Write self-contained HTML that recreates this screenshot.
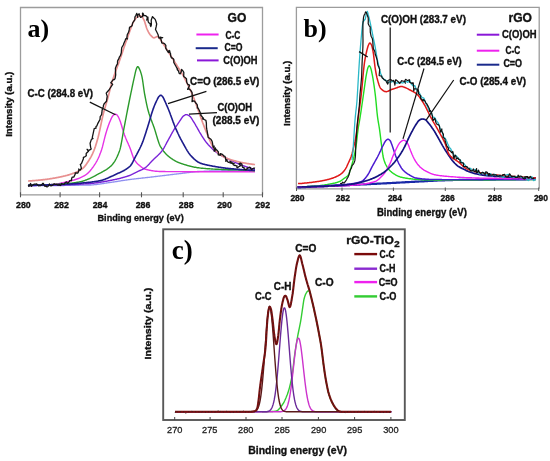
<!DOCTYPE html>
<html><head><meta charset="utf-8"><title>XPS C1s spectra</title>
<style>
html,body{margin:0;padding:0;background:#fff;}
body{width:550px;height:461px;overflow:hidden;}
svg{display:block;}
text{font-kerning:none;}
</style></head>
<body>
<svg width="550" height="461" viewBox="0 0 550 461">
<rect width="550" height="461" fill="#fff"/>
<g id="pa">
<polyline points="20.5,194.8 20.5,7.5 262.5,7.5 262.5,194.8" fill="none" stroke="#9c9c9c" stroke-width="1.3"/>
<line x1="20.5" y1="194.8" x2="262.5" y2="194.8" stroke="#999" stroke-width="1.3"/>
<line x1="20.5" y1="192.3" x2="20.5" y2="197.3" stroke="#555" stroke-width="1.1"/>
<text x="23.4" y="207.8" font-family="'Liberation Sans', sans-serif" font-size="9.7" font-weight="bold" text-anchor="middle" fill="#111" textLength="14.7" lengthAdjust="spacingAndGlyphs" stroke="#111" stroke-width="0.35" >280</text>
<line x1="60.1" y1="192.3" x2="60.1" y2="197.3" stroke="#555" stroke-width="1.1"/>
<text x="61.5" y="207.8" font-family="'Liberation Sans', sans-serif" font-size="9.7" font-weight="bold" text-anchor="middle" fill="#111" textLength="14.7" lengthAdjust="spacingAndGlyphs" stroke="#111" stroke-width="0.35" >282</text>
<line x1="99.6" y1="192.3" x2="99.6" y2="197.3" stroke="#555" stroke-width="1.1"/>
<text x="100" y="207.8" font-family="'Liberation Sans', sans-serif" font-size="9.7" font-weight="bold" text-anchor="middle" fill="#111" textLength="14.7" lengthAdjust="spacingAndGlyphs" stroke="#111" stroke-width="0.35" >284</text>
<line x1="141.5" y1="192.3" x2="141.5" y2="197.3" stroke="#555" stroke-width="1.1"/>
<text x="143" y="207.8" font-family="'Liberation Sans', sans-serif" font-size="9.7" font-weight="bold" text-anchor="middle" fill="#111" textLength="14.7" lengthAdjust="spacingAndGlyphs" stroke="#111" stroke-width="0.35" >286</text>
<line x1="183.2" y1="192.3" x2="183.2" y2="197.3" stroke="#555" stroke-width="1.1"/>
<text x="186.2" y="207.8" font-family="'Liberation Sans', sans-serif" font-size="9.7" font-weight="bold" text-anchor="middle" fill="#111" textLength="14.7" lengthAdjust="spacingAndGlyphs" stroke="#111" stroke-width="0.35" >288</text>
<line x1="223.2" y1="192.3" x2="223.2" y2="197.3" stroke="#555" stroke-width="1.1"/>
<text x="224.5" y="207.8" font-family="'Liberation Sans', sans-serif" font-size="9.7" font-weight="bold" text-anchor="middle" fill="#111" textLength="14.7" lengthAdjust="spacingAndGlyphs" stroke="#111" stroke-width="0.35" >290</text>
<line x1="262.5" y1="192.3" x2="262.5" y2="197.3" stroke="#555" stroke-width="1.1"/>
<text x="262.7" y="207.8" font-family="'Liberation Sans', sans-serif" font-size="9.7" font-weight="bold" text-anchor="middle" fill="#111" textLength="14.7" lengthAdjust="spacingAndGlyphs" stroke="#111" stroke-width="0.35" >292</text>
<polyline points="28,185.8 28.5,185.8 29,185.8 29.5,185.8 30,185.8 30.5,185.8 31,185.8 31.5,185.8 32,185.8 32.5,185.8 33,185.8 33.5,185.8 34,185.8 34.5,185.8 35,185.8 35.5,185.7 36,185.7 36.5,185.7 37,185.7 37.5,185.7 38,185.7 38.5,185.7 39,185.7 39.5,185.7 40,185.7 40.5,185.7 41,185.7 41.5,185.7 42,185.7 42.5,185.7 43,185.7 43.5,185.7 44,185.7 44.5,185.7 45,185.7 45.5,185.7 46,185.7 46.5,185.7 47,185.6 47.5,185.6 48,185.6 48.5,185.6 49,185.6 49.5,185.6 50,185.6 50.5,185.6 51,185.6 51.5,185.6 52,185.6 52.5,185.6 53,185.6 53.5,185.6 54,185.6 54.5,185.6 55,185.6 55.5,185.6 56,185.5 56.5,185.5 57,185.5 57.5,185.5 58,185.5 58.5,185.5 59,185.5 59.5,185.5 60,185.5 60.5,185.5 61,185.5 61.5,185.5 62,185.5 62.5,185.5 63,185.5 63.5,185.5 64,185.5 64.5,185.4 65,185.4 65.5,185.4 66,185.4 66.5,185.4 67,185.4 67.5,185.4 68,185.4 68.5,185.4 69,185.4 69.5,185.4 70,185.4 70.5,185.4 71,185.4 71.5,185.4 72,185.4 72.5,185.4 73,185.3 73.5,185.3 74,185.3 74.5,185.3 75,185.3 75.5,185.3 76,185.3 76.5,185.3 77,185.3 77.5,185.3 78,185.3 78.5,185.3 79,185.3 79.5,185.2 80,185.2 80.5,185.2 81,185.2 81.5,185.2 82,185.2 82.5,185.2 83,185.2 83.5,185.2 84,185.2 84.5,185.1 85,185.1 85.5,185.1 86,185.1 86.5,185.1 87,185.1 87.5,185.1 88,185.1 88.5,185 89,185 89.5,185 90,185 90.5,185 91,185 91.5,184.9 92,184.9 92.5,184.9 93,184.8 93.5,184.8 94,184.7 94.5,184.7 95,184.7 95.5,184.6 96,184.5 96.5,184.5 97,184.4 97.5,184.4 98,184.3 98.5,184.2 99,184.2 99.5,184.1 100,184 100.5,183.9 101,183.9 101.5,183.8 102,183.7 102.5,183.6 103,183.6 103.5,183.5 104,183.4 104.5,183.3 105,183.2 105.5,183.2 106,183.1 106.5,183 107,182.9 107.5,182.9 108,182.8 108.5,182.7 109,182.6 109.5,182.6 110,182.5 110.5,182.4 111,182.4 111.5,182.3 112,182.2 112.5,182.1 113,182.1 113.5,182 114,181.9 114.5,181.8 115,181.8 115.5,181.7 116,181.6 116.5,181.5 117,181.5 117.5,181.4 118,181.3 118.5,181.2 119,181.1 119.5,181.1 120,181 120.5,180.9 121,180.8 121.5,180.7 122,180.7 122.5,180.6 123,180.5 123.5,180.4 124,180.4 124.5,180.3 125,180.2 125.5,180.1 126,180.1 126.5,180 127,179.9 127.5,179.8 128,179.8 128.5,179.7 129,179.6 129.5,179.6 130,179.5 130.5,179.4 131,179.4 131.5,179.3 132,179.2 132.5,179.2 133,179.1 133.5,179.1 134,179 134.5,178.9 135,178.9 135.5,178.8 136,178.8 136.5,178.7 137,178.7 137.5,178.6 138,178.5 138.5,178.5 139,178.4 139.5,178.4 140,178.3 140.5,178.3 141,178.2 141.5,178.2 142,178.1 142.5,178 143,178 143.5,177.9 144,177.9 144.5,177.8 145,177.8 145.5,177.7 146,177.7 146.5,177.6 147,177.5 147.5,177.5 148,177.4 148.5,177.4 149,177.3 149.5,177.3 150,177.2 150.5,177.1 151,177.1 151.5,177 152,177 152.5,176.9 153,176.8 153.5,176.8 154,176.7 154.5,176.7 155,176.6 155.5,176.5 156,176.5 156.5,176.4 157,176.4 157.5,176.3 158,176.2 158.5,176.2 159,176.1 159.5,176.1 160,176 160.5,175.9 161,175.9 161.5,175.8 162,175.8 162.5,175.7 163,175.6 163.5,175.6 164,175.5 164.5,175.5 165,175.4 165.5,175.3 166,175.3 166.5,175.2 167,175.1 167.5,175.1 168,175 168.5,175 169,174.9 169.5,174.8 170,174.8 170.5,174.7 171,174.7 171.5,174.6 172,174.5 172.5,174.5 173,174.4 173.5,174.4 174,174.3 174.5,174.2 175,174.2 175.5,174.1 176,174.1 176.5,174 177,173.9 177.5,173.9 178,173.8 178.5,173.8 179,173.7 179.5,173.7 180,173.6 180.5,173.5 181,173.5 181.5,173.4 182,173.4 182.5,173.3 183,173.2 183.5,173.2 184,173.1 184.5,173 185,173 185.5,172.9 186,172.8 186.5,172.8 187,172.7 187.5,172.6 188,172.6 188.5,172.5 189,172.5 189.5,172.4 190,172.3 190.5,172.3 191,172.2 191.5,172.1 192,172.1 192.5,172 193,172 193.5,171.9 194,171.9 194.5,171.8 195,171.8 195.5,171.7 196,171.7 196.5,171.6 197,171.6 197.5,171.5 198,171.5 198.5,171.5 199,171.5 199.5,171.4 200,171.4 200.5,171.4 201,171.4 201.5,171.3 202,171.3 202.5,171.3 203,171.3 203.5,171.3 204,171.2 204.5,171.2 205,171.2 205.5,171.2 206,171.2 206.5,171.1 207,171.1 207.5,171.1 208,171.1 208.5,171.1 209,171.1 209.5,171 210,171 210.5,171 211,171 211.5,171 212,171 212.5,171 213,170.9 213.5,170.9 214,170.9 214.5,170.9 215,170.9 215.5,170.9 216,170.9 216.5,170.9 217,170.8 217.5,170.8 218,170.8 218.5,170.8 219,170.8 219.5,170.8 220,170.8 220.5,170.8 221,170.8 221.5,170.8 222,170.7 222.5,170.7 223,170.7 223.5,170.7 224,170.7 224.5,170.7 225,170.7 225.5,170.7 226,170.7 226.5,170.7 227,170.7 227.5,170.6 228,170.6 228.5,170.6 229,170.6 229.5,170.6 230,170.6 230.5,170.6 231,170.6 231.5,170.6 232,170.6 232.5,170.6 233,170.6 233.5,170.5 234,170.5 234.5,170.5 235,170.5 235.5,170.5 236,170.5 236.5,170.5 237,170.5 237.5,170.5 238,170.5 238.5,170.5 239,170.5 239.5,170.5 240,170.4 240.5,170.4 241,170.4 241.5,170.4 242,170.4 242.5,170.4 243,170.4 243.5,170.4 244,170.4 244.5,170.4 245,170.4 245.5,170.4 246,170.4 246.5,170.4 247,170.4 247.5,170.4 248,170.4 248.5,170.3 249,170.3 249.5,170.3 250,170.3 250.5,170.3 251,170.3 251.5,170.3 252,170.3 252.5,170.3 253,170.3 253.5,170.3 254,170.3 254.5,170.3 255,170.3" fill="none" stroke="#8f8ff0" stroke-width="1.3" stroke-linejoin="round" />
<polyline points="28,185 28.5,185 29,185 29.5,185 30,185 30.5,185 31,185 31.5,185 32,185 32.5,185 33,185 33.5,185 34,185 34.5,185 35,185 35.5,184.9 36,184.9 36.5,184.9 37,184.9 37.5,184.9 38,184.9 38.5,184.9 39,184.9 39.5,184.9 40,184.9 40.5,184.9 41,184.8 41.5,184.8 42,184.8 42.5,184.8 43,184.8 43.5,184.8 44,184.8 44.5,184.8 45,184.8 45.5,184.7 46,184.7 46.5,184.7 47,184.7 47.5,184.7 48,184.7 48.5,184.6 49,184.6 49.5,184.6 50,184.6 50.5,184.6 51,184.6 51.5,184.5 52,184.5 52.5,184.5 53,184.4 53.5,184.4 54,184.3 54.5,184.3 55,184.2 55.5,184.1 56,184.1 56.5,184 57,183.9 57.5,183.8 58,183.8 58.5,183.7 59,183.6 59.5,183.5 60,183.4 60.5,183.3 61,183.2 61.5,183.1 62,183 62.5,182.9 63,182.8 63.5,182.7 64,182.5 64.5,182.4 65,182.3 65.5,182.2 66,182.1 66.5,181.9 67,181.8 67.5,181.7 68,181.6 68.5,181.4 69,181.3 69.5,181.2 70,181 70.5,180.9 71,180.8 71.5,180.6 72,180.5 72.5,180.4 73,180.2 73.5,180.1 74,180 74.5,179.8 75,179.7 75.5,179.5 76,179.3 76.5,179.2 77,179 77.5,178.8 78,178.7 78.5,178.5 79,178.3 79.5,178.1 80,177.9 80.5,177.6 81,177.4 81.5,177.2 82,176.9 82.5,176.7 83,176.4 83.5,176.2 84,175.9 84.5,175.6 85,175.3 85.5,175 86,174.7 86.5,174.3 87,173.9 87.5,173.5 88,173 88.5,172.6 89,172 89.5,171.5 90,170.9 90.5,170.4 91,169.7 91.5,169.1 92,168.4 92.5,167.8 93,167.1 93.5,166.3 94,165.6 94.5,164.8 95,164.1 95.5,163.3 96,162.5 96.5,161.6 97,160.8 97.5,159.8 98,158.8 98.5,157.7 99,156.6 99.5,155.4 100,154.1 100.5,152.8 101,151.4 101.5,150 102,148.4 102.5,146.7 103,144.7 103.5,142.7 104,140.7 104.5,138.6 105,136.6 105.5,134.7 106,133 106.5,131.4 107,129.8 107.5,128.3 108,126.8 108.5,125.3 109,123.9 109.5,122.6 110,121.4 110.5,120.2 111,119.1 111.5,118 112,117.1 112.5,116.2 113,115.6 113.5,115.1 114,114.7 114.5,114.3 115,114.1 115.5,114.1 116,114.3 116.5,114.6 117,115.1 117.5,115.6 118,116.3 118.5,117.2 119,118.3 119.5,119.5 120,120.7 120.5,122.1 121,123.7 121.5,125.3 122,127 122.5,128.7 123,130.4 123.5,132 124,133.6 124.5,135 125,136.3 125.5,137.6 126,138.8 126.5,139.9 127,141.1 127.5,142.2 128,143.3 128.5,144.5 129,145.6 129.5,146.8 130,148 130.5,149.3 131,150.7 131.5,152.2 132,153.7 132.5,155.2 133,156.6 133.5,157.9 134,159 134.5,159.9 135,160.7 135.5,161.4 136,162 136.5,162.6 137,163.2 137.5,163.7 138,164.2 138.5,164.6 139,165.1 139.5,165.5 140,165.9 140.5,166.3 141,166.7 141.5,167.1 142,167.5 142.5,167.8 143,168.2 143.5,168.5 144,168.7 144.5,169 145,169.1 145.5,169.3 146,169.4 146.5,169.5 147,169.7 147.5,169.8 148,169.9 148.5,170 149,170.1 149.5,170.2 150,170.3 150.5,170.4 151,170.5 151.5,170.6 152,170.7 152.5,170.8 153,170.9 153.5,170.9 154,171 154.5,171.1 155,171.1 155.5,171.2 156,171.3 156.5,171.3 157,171.3 157.5,171.4 158,171.4 158.5,171.4 159,171.5 159.5,171.5 160,171.5 160.5,171.5 161,171.5 161.5,171.5 162,171.5 162.5,171.5 163,171.5 163.5,171.5 164,171.5 164.5,171.5 165,171.5 165.5,171.6 166,171.6 166.5,171.6 167,171.6 167.5,171.6 168,171.6 168.5,171.6 169,171.6 169.5,171.6 170,171.6 170.5,171.6 171,171.6 171.5,171.6 172,171.6 172.5,171.6 173,171.6 173.5,171.6 174,171.6 174.5,171.6 175,171.6 175.5,171.6 176,171.6 176.5,171.6 177,171.6 177.5,171.6 178,171.6 178.5,171.6 179,171.6 179.5,171.6 180,171.6 180.5,171.6 181,171.6 181.5,171.6 182,171.6 182.5,171.7 183,171.7 183.5,171.7 184,171.7 184.5,171.7 185,171.7 185.5,171.7 186,171.7 186.5,171.7 187,171.7 187.5,171.7 188,171.7 188.5,171.7 189,171.7 189.5,171.7 190,171.7 190.5,171.7 191,171.7 191.5,171.7 192,171.7 192.5,171.7 193,171.7 193.5,171.7 194,171.7 194.5,171.7 195,171.7 195.5,171.7 196,171.7 196.5,171.7 197,171.7 197.5,171.7 198,171.7 198.5,171.7 199,171.7 199.5,171.7 200,171.7 200.5,171.7 201,171.7 201.5,171.7 202,171.7 202.5,171.7 203,171.7 203.5,171.7 204,171.7 204.5,171.7 205,171.7 205.5,171.7 206,171.7 206.5,171.7 207,171.7 207.5,171.7 208,171.7 208.5,171.7 209,171.7 209.5,171.7 210,171.7 210.5,171.7 211,171.7 211.5,171.7 212,171.7 212.5,171.7 213,171.7 213.5,171.7 214,171.7 214.5,171.7 215,171.7 215.5,171.7 216,171.7 216.5,171.7 217,171.7 217.5,171.7 218,171.7 218.5,171.7 219,171.7 219.5,171.8 220,171.8 220.5,171.8 221,171.8 221.5,171.8 222,171.8 222.5,171.8 223,171.8 223.5,171.8 224,171.8 224.5,171.8 225,171.8 225.5,171.8 226,171.8 226.5,171.8 227,171.8 227.5,171.8 228,171.8 228.5,171.8 229,171.8 229.5,171.8 230,171.8 230.5,171.8 231,171.8 231.5,171.8 232,171.8 232.5,171.8 233,171.8 233.5,171.8 234,171.8 234.5,171.8 235,171.8 235.5,171.8 236,171.8 236.5,171.8 237,171.8 237.5,171.8 238,171.8 238.5,171.8 239,171.8 239.5,171.8 240,171.8 240.5,171.8 241,171.8 241.5,171.8 242,171.8 242.5,171.8 243,171.8 243.5,171.8 244,171.8 244.5,171.8 245,171.8 245.5,171.8 246,171.8 246.5,171.8 247,171.8 247.5,171.8 248,171.8 248.5,171.8 249,171.8 249.5,171.8 250,171.8 250.5,171.8 251,171.8 251.5,171.8 252,171.8 252.5,171.8 253,171.8 253.5,171.8 254,171.8 254.5,171.8 255,171.8" fill="none" stroke="#e632e6" stroke-width="1.4" stroke-linejoin="round" />
<polyline points="28,185 28.5,185 29,185 29.5,185 30,185 30.5,185 31,185 31.5,185 32,185 32.5,185 33,185 33.5,185 34,185 34.5,185 35,185 35.5,184.9 36,184.9 36.5,184.9 37,184.9 37.5,184.9 38,184.9 38.5,184.9 39,184.9 39.5,184.9 40,184.9 40.5,184.9 41,184.8 41.5,184.8 42,184.8 42.5,184.8 43,184.8 43.5,184.8 44,184.8 44.5,184.8 45,184.7 45.5,184.7 46,184.7 46.5,184.7 47,184.7 47.5,184.7 48,184.7 48.5,184.6 49,184.6 49.5,184.6 50,184.6 50.5,184.6 51,184.6 51.5,184.5 52,184.5 52.5,184.5 53,184.5 53.5,184.5 54,184.4 54.5,184.4 55,184.4 55.5,184.4 56,184.4 56.5,184.3 57,184.3 57.5,184.3 58,184.3 58.5,184.3 59,184.2 59.5,184.2 60,184.2 60.5,184.2 61,184.2 61.5,184.1 62,184.1 62.5,184.1 63,184 63.5,184 64,184 64.5,183.9 65,183.9 65.5,183.8 66,183.8 66.5,183.7 67,183.7 67.5,183.6 68,183.6 68.5,183.5 69,183.5 69.5,183.4 70,183.4 70.5,183.3 71,183.2 71.5,183.2 72,183.1 72.5,183 73,183 73.5,182.9 74,182.8 74.5,182.7 75,182.7 75.5,182.6 76,182.5 76.5,182.4 77,182.3 77.5,182.3 78,182.2 78.5,182.1 79,182 79.5,181.9 80,181.8 80.5,181.7 81,181.6 81.5,181.5 82,181.3 82.5,181.2 83,181.1 83.5,180.9 84,180.8 84.5,180.6 85,180.4 85.5,180.2 86,180 86.5,179.8 87,179.6 87.5,179.4 88,179.2 88.5,179 89,178.8 89.5,178.6 90,178.3 90.5,178.1 91,177.8 91.5,177.6 92,177.3 92.5,177.1 93,176.8 93.5,176.6 94,176.3 94.5,176.1 95,175.8 95.5,175.5 96,175.3 96.5,175 97,174.7 97.5,174.4 98,174.2 98.5,173.9 99,173.6 99.5,173.4 100,173.1 100.5,172.8 101,172.6 101.5,172.3 102,172 102.5,171.8 103,171.5 103.5,171.2 104,171 104.5,170.7 105,170.4 105.5,170.1 106,169.8 106.5,169.5 107,169.1 107.5,168.8 108,168.4 108.5,168 109,167.7 109.5,167.2 110,166.8 110.5,166.4 111,165.9 111.5,165.4 112,164.9 112.5,164.3 113,163.7 113.5,163 114,162.3 114.5,161.6 115,160.8 115.5,159.9 116,159 116.5,158 117,157 117.5,155.9 118,154.7 118.5,153.5 119,152.2 119.5,150.9 120,149.4 120.5,147.4 121,145 121.5,142.4 122,139.6 122.5,136.6 123,133.7 123.5,130.8 124,128.2 124.5,125.6 125,123 125.5,120.4 126,117.8 126.5,115.2 127,112.6 127.5,110 128,107.5 128.5,105 129,102.5 129.5,100 130,97.5 130.5,95.1 131,92.7 131.5,90.3 132,87.9 132.5,85.5 133,83.1 133.5,80.8 134,78.6 134.5,76.4 135,74.2 135.5,71.9 136,69.9 136.5,68.5 137,67.4 137.5,66.7 138,66.6 138.5,67.2 139,68.1 139.5,69.1 140,70.2 140.5,71.6 141,73.1 141.5,74.8 142,76.8 142.5,79.6 143,83 143.5,86.7 144,90.2 144.5,93.3 145,96 145.5,98.7 146,101.2 146.5,103.6 147,105.9 147.5,108.1 148,110 148.5,111.8 149,113.5 149.5,115 150,116.5 150.5,117.9 151,119.3 151.5,120.6 152,121.9 152.5,123.3 153,124.6 153.5,125.9 154,127.3 154.5,128.8 155,130.4 155.5,132 156,133.7 156.5,135.4 157,137 157.5,138.7 158,140.3 158.5,141.8 159,143.2 159.5,144.5 160,145.6 160.5,146.6 161,147.4 161.5,148.2 162,149 162.5,149.7 163,150.4 163.5,151.1 164,151.7 164.5,152.3 165,152.9 165.5,153.5 166,154 166.5,154.5 167,155 167.5,155.4 168,155.9 168.5,156.3 169,156.7 169.5,157.1 170,157.5 170.5,157.9 171,158.2 171.5,158.6 172,158.9 172.5,159.2 173,159.6 173.5,159.9 174,160.2 174.5,160.5 175,160.8 175.5,161 176,161.3 176.5,161.6 177,161.8 177.5,162 178,162.3 178.5,162.5 179,162.7 179.5,162.9 180,163.1 180.5,163.2 181,163.4 181.5,163.6 182,163.8 182.5,163.9 183,164.1 183.5,164.3 184,164.4 184.5,164.6 185,164.7 185.5,164.9 186,165 186.5,165.2 187,165.3 187.5,165.5 188,165.6 188.5,165.8 189,165.9 189.5,166 190,166.2 190.5,166.3 191,166.4 191.5,166.5 192,166.6 192.5,166.7 193,166.9 193.5,167 194,167.1 194.5,167.2 195,167.3 195.5,167.3 196,167.4 196.5,167.5 197,167.6 197.5,167.7 198,167.7 198.5,167.8 199,167.9 199.5,167.9 200,168 200.5,168.1 201,168.1 201.5,168.2 202,168.2 202.5,168.3 203,168.3 203.5,168.4 204,168.4 204.5,168.4 205,168.5 205.5,168.5 206,168.6 206.5,168.6 207,168.7 207.5,168.7 208,168.7 208.5,168.8 209,168.8 209.5,168.8 210,168.9 210.5,168.9 211,168.9 211.5,169 212,169 212.5,169 213,169.1 213.5,169.1 214,169.1 214.5,169.1 215,169.2 215.5,169.2 216,169.2 216.5,169.2 217,169.3 217.5,169.3 218,169.3 218.5,169.3 219,169.4 219.5,169.4 220,169.4 220.5,169.4 221,169.4 221.5,169.5 222,169.5 222.5,169.5 223,169.5 223.5,169.5 224,169.5 224.5,169.6 225,169.6 225.5,169.6 226,169.6 226.5,169.6 227,169.6 227.5,169.6 228,169.7 228.5,169.7 229,169.7 229.5,169.7 230,169.7 230.5,169.7 231,169.7 231.5,169.7 232,169.8 232.5,169.8 233,169.8 233.5,169.8 234,169.8 234.5,169.8 235,169.8 235.5,169.9 236,169.9 236.5,169.9 237,169.9 237.5,169.9 238,169.9 238.5,169.9 239,170 239.5,170 240,170 240.5,170 241,170 241.5,170.1 242,170.1 242.5,170.1 243,170.1 243.5,170.2 244,170.2 244.5,170.2 245,170.2 245.5,170.2 246,170.3 246.5,170.3 247,170.3 247.5,170.4 248,170.4 248.5,170.4 249,170.4 249.5,170.5 250,170.5 250.5,170.5 251,170.6 251.5,170.6 252,170.6 252.5,170.6 253,170.7 253.5,170.7 254,170.7 254.5,170.8 255,170.8" fill="none" stroke="#2a9a2a" stroke-width="1.4" stroke-linejoin="round" />
<polyline points="28,185.5 28.5,185.5 29,185.5 29.5,185.5 30,185.5 30.5,185.5 31,185.5 31.5,185.5 32,185.5 32.5,185.5 33,185.5 33.5,185.5 34,185.5 34.5,185.5 35,185.5 35.5,185.5 36,185.5 36.5,185.5 37,185.4 37.5,185.4 38,185.4 38.5,185.4 39,185.4 39.5,185.4 40,185.4 40.5,185.4 41,185.4 41.5,185.4 42,185.4 42.5,185.4 43,185.4 43.5,185.4 44,185.3 44.5,185.3 45,185.3 45.5,185.3 46,185.3 46.5,185.3 47,185.3 47.5,185.3 48,185.3 48.5,185.3 49,185.3 49.5,185.2 50,185.2 50.5,185.2 51,185.2 51.5,185.2 52,185.2 52.5,185.2 53,185.2 53.5,185.2 54,185.1 54.5,185.1 55,185.1 55.5,185.1 56,185.1 56.5,185.1 57,185.1 57.5,185.1 58,185 58.5,185 59,185 59.5,185 60,185 60.5,185 61,185 61.5,185 62,184.9 62.5,184.9 63,184.9 63.5,184.9 64,184.9 64.5,184.9 65,184.9 65.5,184.8 66,184.8 66.5,184.8 67,184.8 67.5,184.8 68,184.8 68.5,184.7 69,184.7 69.5,184.7 70,184.7 70.5,184.7 71,184.6 71.5,184.6 72,184.6 72.5,184.6 73,184.5 73.5,184.5 74,184.5 74.5,184.5 75,184.5 75.5,184.4 76,184.4 76.5,184.4 77,184.3 77.5,184.3 78,184.3 78.5,184.3 79,184.2 79.5,184.2 80,184.2 80.5,184.2 81,184.1 81.5,184.1 82,184.1 82.5,184 83,184 83.5,184 84,183.9 84.5,183.9 85,183.9 85.5,183.8 86,183.8 86.5,183.8 87,183.7 87.5,183.7 88,183.7 88.5,183.6 89,183.6 89.5,183.5 90,183.5 90.5,183.5 91,183.4 91.5,183.4 92,183.3 92.5,183.3 93,183.2 93.5,183.2 94,183.1 94.5,183.1 95,183 95.5,182.9 96,182.9 96.5,182.8 97,182.7 97.5,182.7 98,182.6 98.5,182.5 99,182.4 99.5,182.4 100,182.3 100.5,182.2 101,182.1 101.5,182 102,182 102.5,181.9 103,181.8 103.5,181.7 104,181.6 104.5,181.5 105,181.4 105.5,181.3 106,181.3 106.5,181.2 107,181.1 107.5,181 108,180.9 108.5,180.8 109,180.7 109.5,180.6 110,180.5 110.5,180.4 111,180.3 111.5,180.2 112,180.1 112.5,180 113,179.9 113.5,179.8 114,179.7 114.5,179.6 115,179.5 115.5,179.4 116,179.3 116.5,179.2 117,179.1 117.5,178.9 118,178.8 118.5,178.7 119,178.6 119.5,178.5 120,178.3 120.5,178.2 121,178.1 121.5,177.9 122,177.8 122.5,177.7 123,177.5 123.5,177.4 124,177.2 124.5,177.1 125,176.9 125.5,176.8 126,176.6 126.5,176.5 127,176.3 127.5,176.2 128,176 128.5,175.8 129,175.7 129.5,175.5 130,175.3 130.5,175.1 131,174.9 131.5,174.7 132,174.4 132.5,174.2 133,173.9 133.5,173.7 134,173.4 134.5,173.1 135,172.9 135.5,172.6 136,172.4 136.5,172.1 137,171.9 137.5,171.6 138,171.4 138.5,171.2 139,171 139.5,170.7 140,170.5 140.5,170.3 141,170 141.5,169.8 142,169.6 142.5,169.3 143,169 143.5,168.8 144,168.5 144.5,168.2 145,167.8 145.5,167.5 146,167.1 146.5,166.7 147,166.2 147.5,165.8 148,165.3 148.5,164.7 149,164.2 149.5,163.7 150,163.1 150.5,162.6 151,162 151.5,161.5 152,160.9 152.5,160.4 153,159.9 153.5,159.4 154,158.9 154.5,158.5 155,158 155.5,157.6 156,157.1 156.5,156.7 157,156.2 157.5,155.7 158,155.3 158.5,154.8 159,154.3 159.5,153.8 160,153.2 160.5,152.7 161,152.1 161.5,151.5 162,150.9 162.5,150.2 163,149.4 163.5,148.6 164,147.8 164.5,146.9 165,146 165.5,145 166,144.1 166.5,143.1 167,142.2 167.5,141.3 168,140.4 168.5,139.5 169,138.6 169.5,137.7 170,136.8 170.5,135.9 171,134.9 171.5,134 172,133.1 172.5,132.2 173,131.4 173.5,130.5 174,129.7 174.5,128.9 175,128.1 175.5,127.3 176,126.6 176.5,125.8 177,125.1 177.5,124.3 178,123.6 178.5,122.9 179,122.2 179.5,121.4 180,120.7 180.5,120 181,119.2 181.5,118.5 182,117.7 182.5,117 183,116.4 183.5,116 184,115.6 184.5,115.3 185,115 185.5,114.7 186,114.6 186.5,114.6 187,114.7 187.5,114.9 188,115.1 188.5,115.3 189,115.6 189.5,115.9 190,116.4 190.5,117 191,117.7 191.5,118.4 192,119.2 192.5,120 193,120.8 193.5,121.6 194,122.4 194.5,123.2 195,124 195.5,124.9 196,125.8 196.5,126.6 197,127.5 197.5,128.4 198,129.3 198.5,130.2 199,131.1 199.5,132 200,132.8 200.5,133.6 201,134.4 201.5,135.3 202,136.1 202.5,136.9 203,137.7 203.5,138.5 204,139.2 204.5,140 205,140.7 205.5,141.4 206,142 206.5,142.6 207,143.2 207.5,143.8 208,144.4 208.5,144.9 209,145.5 209.5,146.1 210,146.6 210.5,147.1 211,147.6 211.5,148.1 212,148.6 212.5,149.1 213,149.5 213.5,150 214,150.4 214.5,150.8 215,151.2 215.5,151.6 216,152 216.5,152.4 217,152.7 217.5,153.1 218,153.4 218.5,153.7 219,154.1 219.5,154.4 220,154.7 220.5,155 221,155.3 221.5,155.6 222,155.9 222.5,156.2 223,156.4 223.5,156.7 224,157 224.5,157.2 225,157.5 225.5,157.8 226,158 226.5,158.3 227,158.5 227.5,158.8 228,159 228.5,159.3 229,159.5 229.5,159.8 230,160 230.5,160.2 231,160.5 231.5,160.7 232,161 232.5,161.2 233,161.4 233.5,161.7 234,161.9 234.5,162.1 235,162.4 235.5,162.6 236,162.8 236.5,163 237,163.2 237.5,163.4 238,163.7 238.5,163.9 239,164.1 239.5,164.3 240,164.5 240.5,164.7 241,164.9 241.5,165.1 242,165.3 242.5,165.5 243,165.6 243.5,165.8 244,166 244.5,166.2 245,166.4 245.5,166.5 246,166.7 246.5,166.9 247,167 247.5,167.2 248,167.4 248.5,167.5 249,167.7 249.5,167.8 250,168 250.5,168.1 251,168.3 251.5,168.4 252,168.6 252.5,168.7 253,168.9 253.5,169 254,169.1 254.5,169.3 255,169.4" fill="none" stroke="#7a22d8" stroke-width="1.4" stroke-linejoin="round" />
<polyline points="28,185.2 28.5,185.2 29,185.2 29.5,185.2 30,185.2 30.5,185.2 31,185.2 31.5,185.2 32,185.2 32.5,185.2 33,185.2 33.5,185.2 34,185.2 34.5,185.2 35,185.2 35.5,185.2 36,185.2 36.5,185.1 37,185.1 37.5,185.1 38,185.1 38.5,185.1 39,185.1 39.5,185.1 40,185.1 40.5,185.1 41,185.1 41.5,185.1 42,185.1 42.5,185.1 43,185 43.5,185 44,185 44.5,185 45,185 45.5,185 46,185 46.5,185 47,185 47.5,184.9 48,184.9 48.5,184.9 49,184.9 49.5,184.9 50,184.9 50.5,184.9 51,184.9 51.5,184.8 52,184.8 52.5,184.8 53,184.8 53.5,184.8 54,184.8 54.5,184.8 55,184.7 55.5,184.7 56,184.7 56.5,184.7 57,184.7 57.5,184.7 58,184.7 58.5,184.6 59,184.6 59.5,184.6 60,184.6 60.5,184.6 61,184.6 61.5,184.5 62,184.5 62.5,184.5 63,184.5 63.5,184.5 64,184.4 64.5,184.4 65,184.4 65.5,184.3 66,184.3 66.5,184.3 67,184.3 67.5,184.2 68,184.2 68.5,184.2 69,184.1 69.5,184.1 70,184 70.5,184 71,184 71.5,183.9 72,183.9 72.5,183.9 73,183.8 73.5,183.8 74,183.7 74.5,183.7 75,183.6 75.5,183.6 76,183.6 76.5,183.5 77,183.5 77.5,183.4 78,183.4 78.5,183.3 79,183.3 79.5,183.2 80,183.2 80.5,183.2 81,183.1 81.5,183.1 82,183 82.5,183 83,182.9 83.5,182.9 84,182.8 84.5,182.8 85,182.7 85.5,182.7 86,182.6 86.5,182.6 87,182.5 87.5,182.5 88,182.4 88.5,182.4 89,182.3 89.5,182.3 90,182.2 90.5,182.2 91,182.1 91.5,182 92,182 92.5,181.9 93,181.8 93.5,181.8 94,181.7 94.5,181.6 95,181.6 95.5,181.5 96,181.4 96.5,181.3 97,181.2 97.5,181.2 98,181.1 98.5,181 99,180.9 99.5,180.8 100,180.7 100.5,180.6 101,180.5 101.5,180.4 102,180.2 102.5,180.1 103,179.9 103.5,179.8 104,179.6 104.5,179.4 105,179.2 105.5,179 106,178.8 106.5,178.6 107,178.4 107.5,178.2 108,178 108.5,177.8 109,177.5 109.5,177.3 110,177.1 110.5,176.8 111,176.6 111.5,176.4 112,176.1 112.5,175.9 113,175.7 113.5,175.4 114,175.2 114.5,174.9 115,174.7 115.5,174.5 116,174.2 116.5,174 117,173.8 117.5,173.6 118,173.3 118.5,173.1 119,172.9 119.5,172.7 120,172.5 120.5,172.2 121,172 121.5,171.8 122,171.5 122.5,171.3 123,171 123.5,170.8 124,170.5 124.5,170.2 125,169.9 125.5,169.6 126,169.3 126.5,169 127,168.6 127.5,168.3 128,167.9 128.5,167.5 129,167.1 129.5,166.7 130,166.2 130.5,165.7 131,165 131.5,164.3 132,163.5 132.5,162.6 133,161.7 133.5,160.7 134,159.7 134.5,158.7 135,157.7 135.5,156.7 136,155.7 136.5,154.8 137,153.8 137.5,152.9 138,152 138.5,151 139,150 139.5,149.1 140,148 140.5,147 141,145.9 141.5,144.8 142,143.6 142.5,142.4 143,141.1 143.5,139.7 144,138.3 144.5,136.8 145,135.3 145.5,133.8 146,132.2 146.5,130.6 147,129 147.5,127.4 148,125.8 148.5,124.2 149,122.6 149.5,120.9 150,119.1 150.5,117.4 151,115.7 151.5,114 152,112.4 152.5,110.9 153,109.4 153.5,108.1 154,106.8 154.5,105.5 155,104.3 155.5,103.2 156,102.1 156.5,101 157,100 157.5,98.9 158,98 158.5,97.1 159,96.5 159.5,96 160,95.5 160.5,95.2 161,95.3 161.5,95.5 162,96 162.5,96.5 163,97.2 163.5,98.1 164,99.2 164.5,100.3 165,101.4 165.5,102.5 166,103.6 166.5,104.8 167,105.9 167.5,107.1 168,108.3 168.5,109.5 169,110.7 169.5,112 170,113.3 170.5,114.7 171,116 171.5,117.4 172,118.8 172.5,120.2 173,121.6 173.5,122.9 174,124.2 174.5,125.5 175,126.8 175.5,128 176,129.1 176.5,130.2 177,131.3 177.5,132.4 178,133.5 178.5,134.5 179,135.6 179.5,136.6 180,137.6 180.5,138.6 181,139.5 181.5,140.5 182,141.4 182.5,142.3 183,143.2 183.5,144.1 184,145 184.5,145.9 185,146.8 185.5,147.7 186,148.6 186.5,149.4 187,150.3 187.5,151.1 188,151.9 188.5,152.7 189,153.4 189.5,154.1 190,154.7 190.5,155.3 191,155.8 191.5,156.4 192,156.9 192.5,157.4 193,157.9 193.5,158.4 194,158.9 194.5,159.3 195,159.7 195.5,160.2 196,160.6 196.5,161 197,161.3 197.5,161.7 198,162 198.5,162.3 199,162.5 199.5,162.8 200,163 200.5,163.2 201,163.4 201.5,163.5 202,163.7 202.5,163.9 203,164 203.5,164.2 204,164.3 204.5,164.4 205,164.5 205.5,164.7 206,164.8 206.5,164.9 207,165 207.5,165.1 208,165.2 208.5,165.3 209,165.4 209.5,165.5 210,165.6 210.5,165.7 211,165.8 211.5,165.9 212,166 212.5,166.1 213,166.2 213.5,166.3 214,166.4 214.5,166.4 215,166.5 215.5,166.6 216,166.7 216.5,166.8 217,166.9 217.5,167 218,167 218.5,167.1 219,167.2 219.5,167.3 220,167.4 220.5,167.4 221,167.5 221.5,167.6 222,167.6 222.5,167.7 223,167.8 223.5,167.9 224,167.9 224.5,168 225,168 225.5,168.1 226,168.2 226.5,168.2 227,168.3 227.5,168.3 228,168.4 228.5,168.5 229,168.5 229.5,168.6 230,168.6 230.5,168.6 231,168.7 231.5,168.7 232,168.8 232.5,168.8 233,168.9 233.5,168.9 234,169 234.5,169 235,169.1 235.5,169.1 236,169.2 236.5,169.2 237,169.2 237.5,169.3 238,169.3 238.5,169.4 239,169.4 239.5,169.4 240,169.5 240.5,169.5 241,169.6 241.5,169.6 242,169.6 242.5,169.7 243,169.7 243.5,169.7 244,169.8 244.5,169.8 245,169.8 245.5,169.9 246,169.9 246.5,169.9 247,170 247.5,170 248,170 248.5,170.1 249,170.1 249.5,170.1 250,170.1 250.5,170.1 251,170.2 251.5,170.2 252,170.2 252.5,170.2 253,170.2 253.5,170.3 254,170.3 254.5,170.3 255,170.3" fill="none" stroke="#1c1c8c" stroke-width="1.6" stroke-linejoin="round" />
<polyline points="28,181 28.5,181 29,181 29.5,180.9 30,180.9 30.5,180.9 31,180.8 31.5,180.8 32,180.8 32.5,180.7 33,180.7 33.5,180.7 34,180.6 34.5,180.6 35,180.5 35.5,180.5 36,180.4 36.5,180.4 37,180.4 37.5,180.3 38,180.3 38.5,180.2 39,180.2 39.5,180.1 40,180.1 40.5,180 41,179.9 41.5,179.9 42,179.8 42.5,179.8 43,179.7 43.5,179.7 44,179.6 44.5,179.6 45,179.5 45.5,179.4 46,179.4 46.5,179.3 47,179.3 47.5,179.2 48,179.1 48.5,179 49,179 49.5,178.9 50,178.8 50.5,178.7 51,178.7 51.5,178.6 52,178.5 52.5,178.4 53,178.3 53.5,178.2 54,178.2 54.5,178.1 55,178 55.5,177.9 56,177.8 56.5,177.7 57,177.6 57.5,177.5 58,177.4 58.5,177.3 59,177.2 59.5,177.1 60,177 60.5,176.9 61,176.8 61.5,176.7 62,176.6 62.5,176.5 63,176.3 63.5,176.2 64,176.1 64.5,176 65,175.9 65.5,175.7 66,175.6 66.5,175.5 67,175.4 67.5,175.2 68,175.1 68.5,174.9 69,174.8 69.5,174.6 70,174.5 70.5,174.3 71,174.1 71.5,174 72,173.8 72.5,173.6 73,173.4 73.5,173.3 74,173.1 74.5,172.9 75,172.7 75.5,172.5 76,172.2 76.5,172 77,171.8 77.5,171.6 78,171.3 78.5,171 79,170.8 79.5,170.5 80,170.2 80.5,169.9 81,169.6 81.5,169.2 82,168.9 82.5,168.5 83,168.1 83.5,167.6 84,167.1 84.5,166.6 85,166 85.5,165.4 86,164.7 86.5,164 87,163.3 87.5,162.6 88,161.8 88.5,161 89,160.2 89.5,159.3 90,158.5 90.5,157.7 91,156.8 91.5,155.8 92,154.8 92.5,153.8 93,152.7 93.5,151.5 94,150.3 94.5,149 95,147.6 95.5,146.2 96,144.6 96.5,143 97,141.3 97.5,139.5 98,137.7 98.5,135.7 99,133.6 99.5,131.4 100,129.1 100.5,126.7 101,124.3 101.5,121.9 102,119.5 102.5,117.3 103,115.1 103.5,113.1 104,111.2 104.5,109.4 105,107.7 105.5,106 106,104.3 106.5,102.6 107,100.9 107.5,99.2 108,97.4 108.5,95.6 109,93.6 109.5,91.6 110,89.5 110.5,87.5 111,85.6 111.5,83.8 112,82.1 112.5,80.5 113,78.9 113.5,77.4 114,75.9 114.5,74.4 115,73 115.5,71.6 116,70.3 116.5,69 117,67.7 117.5,66.3 118,65 118.5,63.6 119,62.2 119.5,60.8 120,59.3 120.5,57.8 121,56.4 121.5,54.9 122,53.4 122.5,51.9 123,50.4 123.5,48.9 124,47.5 124.5,46 125,44.6 125.5,43.1 126,41.7 126.5,40.4 127,39 127.5,37.6 128,36.2 128.5,34.8 129,33.4 129.5,31.9 130,30.5 130.5,29.1 131,27.7 131.5,26.4 132,25.1 132.5,24 133,22.8 133.5,21.8 134,20.9 134.5,20.1 135,19.4 135.5,18.8 136,18.1 136.5,17.6 137,17.1 137.5,16.7 138,16.5 138.5,16.4 139,16.2 139.5,16.1 140,16.1 140.5,16 141,16 141.5,16.2 142,16.6 142.5,17.3 143,18.1 143.5,19.1 144,20 144.5,21.2 145,22.7 145.5,24.4 146,26.1 146.5,27.7 147,29 147.5,30.1 148,31.1 148.5,32.1 149,33 149.5,33.8 150,34.5 150.5,35.1 151,35.7 151.5,36.2 152,36.7 152.5,37.2 153,37.5 153.5,37.7 154,37.8 154.5,37.7 155,37.5 155.5,37.2 156,37 156.5,36.7 157,36.5 157.5,36.5 158,36.7 158.5,37 159,37.5 159.5,38.2 160,38.9 160.5,39.7 161,40.5 161.5,41.3 162,42 162.5,42.7 163,43.4 163.5,44.2 164,45 164.5,45.8 165,46.6 165.5,47.4 166,48.2 166.5,49 167,49.8 167.5,50.6 168,51.3 168.5,52.1 169,52.9 169.5,53.7 170,54.5 170.5,55.3 171,56.1 171.5,56.9 172,57.7 172.5,58.5 173,59.3 173.5,60.1 174,60.9 174.5,61.7 175,62.5 175.5,63.3 176,64 176.5,64.8 177,65.6 177.5,66.4 178,67.1 178.5,67.9 179,68.7 179.5,69.5 180,70.3 180.5,71.1 181,71.9 181.5,72.7 182,73.6 182.5,74.4 183,75.3 183.5,76.2 184,77.1 184.5,78 185,79 185.5,80 186,81 186.5,82 187,83.1 187.5,84.1 188,85.1 188.5,86.2 189,87.2 189.5,88.3 190,89.3 190.5,90.4 191,91.5 191.5,92.5 192,93.7 192.5,94.8 193,96 193.5,97.2 194,98.5 194.5,99.9 195,101.2 195.5,102.6 196,104 196.5,105.4 197,106.8 197.5,108.2 198,109.6 198.5,111 199,112.5 199.5,113.9 200,115.3 200.5,116.7 201,118.1 201.5,119.5 202,120.8 202.5,122.2 203,123.5 203.5,124.8 204,126.1 204.5,127.4 205,128.6 205.5,129.9 206,131.1 206.5,132.3 207,133.4 207.5,134.7 208,135.9 208.5,137.1 209,138.4 209.5,139.6 210,140.8 210.5,142 211,143.1 211.5,144.2 212,145.2 212.5,146.2 213,147.1 213.5,147.9 214,148.6 214.5,149.2 215,149.7 215.5,150.3 216,150.8 216.5,151.3 217,151.8 217.5,152.3 218,152.8 218.5,153.2 219,153.6 219.5,154.1 220,154.4 220.5,154.8 221,155.2 221.5,155.5 222,155.8 222.5,156.2 223,156.4 223.5,156.7 224,157 224.5,157.3 225,157.5 225.5,157.7 226,158 226.5,158.2 227,158.4 227.5,158.6 228,158.8 228.5,159 229,159.1 229.5,159.3 230,159.5 230.5,159.6 231,159.8 231.5,160 232,160.1 232.5,160.3 233,160.4 233.5,160.5 234,160.7 234.5,160.8 235,160.9 235.5,161.1 236,161.2 236.5,161.3 237,161.5 237.5,161.6 238,161.7 238.5,161.8 239,161.9 239.5,162 240,162.1 240.5,162.3 241,162.4 241.5,162.5 242,162.6 242.5,162.7 243,162.8 243.5,162.9 244,162.9 244.5,163 245,163.1 245.5,163.2 246,163.3 246.5,163.4 247,163.5 247.5,163.6 248,163.6 248.5,163.7 249,163.8 249.5,163.9 250,163.9 250.5,164 251,164.1 251.5,164.2 252,164.2 252.5,164.3 253,164.4 253.5,164.4 254,164.5 254.5,164.5 255,164.6" fill="none" stroke="#e89090" stroke-width="1.7" stroke-linejoin="round" />
<polyline points="28.1,185.4 28.5,185.8 28.9,186.3 29.5,185.7 30.1,184.3 30.6,183.5 31,185 31.3,186.4 31.7,186.1 32.4,185.4 33.2,184.8 33.6,184.5 34,184.2 34.6,184.2 35.1,184.2 35.7,184.1 36.4,184 36.7,184 37.1,184.3 37.4,184.7 37.8,185.1 38.3,185.6 38.9,185.8 39.5,185.7 40.2,185.6 40.5,185.6 40.7,185.6 41.4,185 42.1,184.1 42.6,183.3 43.1,183.3 43.4,183.4 43.8,184.4 44.4,185.7 45,186.4 45.6,186.1 46.1,185.9 46.5,186.4 46.8,186.8 47.4,186.8 47.9,186.4 48.5,185.8 49.1,184.9 49.4,183.9 49.7,184.5 50.3,185.4 50.8,185.9 51.5,185.6 52.2,185.3 52.6,185.1 53,184.9 53.4,184.5 53.7,184.1 54.4,183.8 55,184.1 55.7,184.4 56.4,184.4 56.5,184.3 56.7,184.4 57.4,184.8 58.2,185.2 58.7,184.9 59.2,184.5 59.6,184.7 60,185.3 60.5,185.5 61.1,184.5 61.5,183.4 61.9,183.6 62.6,184 63.3,184.3 63.8,184.2 64.3,184.2 64.6,183.5 64.8,182.9 65.4,182.4 66,182.2 66.5,182 67,182.7 67.5,183.4 67.9,183.1 68.5,182.6 69.1,182 69.4,181.3 69.8,180.6 70.3,180.5 71.5,180.6 71.6,179.8 71.7,178.3 72.3,177.1 73,177.2 73.7,177.2 74.4,175.9 75.1,174.2 75.8,173.1 75.5,173 75.1,172.9 76.4,173 77.7,173.1 78.3,172.1 78.8,170.3 78.8,169 78.9,169.6 80.1,170.1 81.4,168.3 80.8,165.9 80.3,164.3 80.9,164.1 81.5,163.6 82.4,161.3 83.3,158.9 83.4,157.7 83.4,157.3 84.8,156.8 86.3,155.7 86.2,154.7 86.2,153.5 87.4,152.3 88.5,151.2 87.8,150.3 87.1,149.3 87.6,149.9 88.1,150.4 89.7,150 91.2,148.9 90.6,147.2 90.1,143.3 91.5,139.1 93,138.5 92.6,138.9 92.3,137.3 93.3,132.9 94.2,128.7 95.1,128.4 96,128.2 96,128 95.9,127.6 96,127.2 96,126.6 96.8,125.9 97.6,123.9 98.8,121.6 100,119.5 100.1,118.2 100.2,116.7 100.9,115.7 101.6,114.6 101.9,112.7 102.1,110.3 102.7,108.2 103.3,106.7 103.5,105.2 103.8,104.7 104,104.4 104.1,103.7 105.3,102.5 106.5,101.2 106.8,98.8 107.2,96.4 106.7,94.6 106.2,93.1 107.6,91.5 109,90 109.9,88.5 110.9,87 111.8,85.6 112.7,84.4 111.8,83.6 110.8,82.7 111.9,81.4 113.1,79.9 113.8,79.5 114.5,79.5 115.1,78.4 115.7,74.9 115.5,71.2 115.4,68.2 116.4,65.7 117.5,63.9 117.5,62.3 117.6,60.9 118.3,59.6 119,58.4 119.2,57.5 119.5,56.8 120.4,55.7 121.3,52.7 121.5,49.7 121.7,47.8 122.5,46.3 123.3,45 123.6,44.1 123.9,43.3 124.9,41 125.8,38.7 126.7,38.1 127.5,38.8 127.2,39 126.9,37.4 127.1,35.9 127.3,34.5 128.1,33.1 128.8,31.6 129.2,29.7 129.5,27.9 129.5,27.6 129.5,27.3 130.8,26.7 132,25.7 132.3,24.7 132.6,23 133.7,21.4 134.8,19.8 134.9,18.4 134.9,17 135.9,15.2 136.8,13.4 137.3,15.4 137.7,17.4 137.6,17.3 137.6,15.9 138.1,14.7 138.7,14.2 139.1,13.7 139.5,14.9 140.1,16.5 140.6,17.3 141.7,16.8 142.7,16.4 142.6,14.8 142.5,13.2 143.1,13.4 143.6,14.7 143.9,15.7 144.3,15.6 145.8,15.7 147.3,17.3 147,19.3 146.7,20.1 147.3,18.6 147.9,17.1 148,19.5 148.2,21.8 149.2,23.1 150.2,23.5 150.2,24 150.3,25.3 150.8,26.6 151.4,24.9 151.3,22.5 151.2,20.3 151.8,18.4 152.5,16.6 153.8,18 155.2,19.4 155.9,21.3 156.7,24 156.1,27 155.5,29.5 156.8,32 158.1,34.7 158.6,37.1 159.1,38.2 160.9,38 162.7,37.7 161.4,37.5 160.1,37.2 160.7,38.5 161.4,40.9 161.7,42.9 162,43 163.4,43.1 164.7,43.8 165.3,44.7 165.9,45.7 165.8,46.9 165.7,48.1 167,50.3 168.3,52.3 169.1,52.5 169.9,51.3 169.2,50.5 168.6,51.2 169.5,51.9 170.5,53.3 170.6,55 170.8,56.3 171.1,57 171.4,57.9 172,58 172.6,58.1 173.2,58.7 173.8,59.5 173.8,60.5 173.8,62.5 174.9,64.5 175.9,66.3 176.8,68 177.7,69.1 177.4,69.3 177.1,69.6 177.8,70.3 178.5,71 178.8,72 179.2,73.3 180.3,73.8 181.3,71.5 181.6,69.3 181.9,69.7 182.9,70.9 183.8,72.3 183.8,73.8 183.7,75.4 183.7,75.9 183.7,76.5 185.1,77.5 186.5,78.7 186.6,80.2 186.7,82.3 187.9,84.5 189,84.8 189.3,84.8 189.6,85.5 188.6,87.4 187.6,89.4 188.4,89.2 189.2,88.9 190.6,90.2 192,92.4 192.2,94.8 192.3,98.1 192.1,101.4 192,101.6 193.2,100.9 194.5,101.2 195.8,103 197.2,104.7 197.4,106.1 197.6,107.4 197.4,107.9 197.2,107.8 198.2,108.2 199.2,110.2 200.1,112.3 200.9,113.3 200.9,114.1 200.8,115.2 202.2,116.8 203.6,118.5 203,118.7 202.4,118.9 204.1,119.5 205.9,120.3 206.1,121.4 206.4,123.4 206.4,125.4 206.5,127.3 206.8,129.2 207.2,131.3 207.6,133.7 208,136.2 208.1,136.9 208.2,137.5 209.5,138.3 210.9,139.3 211.5,140.2 212.1,141.4 212.4,142.5 212.7,144.4 213,146.5 213.2,147.4 213.7,146.7 214.1,146 214.1,148.6 214.2,151.2 214.8,151.2 215.4,149.3 215.5,148 215.7,149.2 217.1,150.3 218.4,151.9 218.3,153.7 218.2,154.9 219.5,155 220.7,155.2 220.6,154.4 220.4,153.6 221.8,154 223.3,155.3 223.8,156.2 224.4,156.2 224.9,156.2 225.4,157.8 225.7,159.7 226,160.9 225.9,161.1 225.7,161.2 226.2,160.4 226.7,159.6 227,160.1 227.3,161.4 228.3,162.4 229.3,162 230.4,161.6 231.5,162 230.8,162.5 230,162.9 232.1,163.3 234.2,163.6 233.3,163.3 232.5,162.9 232.7,163.4 232.9,164.5 234.1,165.3 235.3,165.5 236.1,165.7 237,165.9 236.8,166 236.7,166.3 236.9,167.1 237.1,167.9 238.8,166.7 240.6,165.6 239.8,164.6 239,163.6 240.4,163.1 241.9,164.1 242,165.2 242.1,166 242.4,166.8 242.7,167.3 243.3,167.3 244,167.3 244,167.9 244,168.6 244.5,169 245,169.4 246.1,169.5 247.3,168.8 247.2,168 247.1,168 247.7,168.1 248.3,167.9 249.8,167.2 250.3,167.6 250.8,168.6 251.4,169.5 251.8,169.6 252.2,169.1 252.7,168.7 253.2,168.5 253.6,168.2 253.9,168.2 254.5,168.2 255,168.4" fill="none" stroke="#151515" stroke-width="1.3" stroke-linejoin="round" />
<line x1="89.8" y1="102.1" x2="115.5" y2="114.8" stroke="#111" stroke-width="1.2"/>
<line x1="168" y1="103.6" x2="206.4" y2="91.4" stroke="#111" stroke-width="1.2"/>
<line x1="189" y1="114.2" x2="217" y2="112.6" stroke="#111" stroke-width="1.2"/>
<text x="27.5" y="97.2" font-family="'Liberation Sans', sans-serif" font-size="10" font-weight="bold" text-anchor="start" fill="#111" textLength="65.4" lengthAdjust="spacingAndGlyphs" stroke="#111" stroke-width="0.35" >C-C (284.8 eV)</text>
<text x="190" y="84.8" font-family="'Liberation Sans', sans-serif" font-size="10" font-weight="bold" text-anchor="start" fill="#111" textLength="69.4" lengthAdjust="spacingAndGlyphs" stroke="#111" stroke-width="0.35" >C=O (286.5 eV)</text>
<text x="217.5" y="110.6" font-family="'Liberation Sans', sans-serif" font-size="10" font-weight="bold" text-anchor="start" fill="#111" textLength="34.7" lengthAdjust="spacingAndGlyphs" stroke="#111" stroke-width="0.35" >C(O)OH</text>
<text x="212.5" y="123.6" font-family="'Liberation Sans', sans-serif" font-size="10" font-weight="bold" text-anchor="start" fill="#111" textLength="46.8" lengthAdjust="spacingAndGlyphs" stroke="#111" stroke-width="0.35" >(288.5 eV)</text>
<line x1="196.4" y1="34.5" x2="218.6" y2="34.5" stroke="#ee22ee" stroke-width="2.0"/>
<line x1="195.7" y1="48.2" x2="217.7" y2="48.2" stroke="#1a2a8c" stroke-width="2.0"/>
<line x1="197" y1="60.4" x2="218.6" y2="60.4" stroke="#8a18d8" stroke-width="2.0"/>
<text x="225.4" y="38.6" font-family="'Liberation Sans', sans-serif" font-size="10" font-weight="bold" text-anchor="start" fill="#111" textLength="14.9" lengthAdjust="spacingAndGlyphs" stroke="#111" stroke-width="0.35" >C-C</text>
<text x="224.4" y="51.4" font-family="'Liberation Sans', sans-serif" font-size="10" font-weight="bold" text-anchor="start" fill="#111" textLength="18" lengthAdjust="spacingAndGlyphs" stroke="#111" stroke-width="0.35" >C=O</text>
<text x="223.3" y="63.6" font-family="'Liberation Sans', sans-serif" font-size="10.4" font-weight="bold" text-anchor="start" fill="#111" textLength="34.2" lengthAdjust="spacingAndGlyphs" stroke="#111" stroke-width="0.35" >C(O)OH</text>
<text x="227.6" y="21.8" font-family="'Liberation Sans', sans-serif" font-size="12.3" font-weight="bold" text-anchor="start" fill="#111" textLength="18.8" lengthAdjust="spacingAndGlyphs" stroke="#111" stroke-width="0.35" >GO</text>
<text x="27.6" y="36.9" font-family="'Liberation Serif', serif" font-size="26" font-weight="bold" text-anchor="start" fill="#000" >a)</text>
<text x="0" y="0" font-family="'Liberation Sans', sans-serif" font-size="8.6" font-weight="bold" text-anchor="middle" fill="#111" textLength="65" lengthAdjust="spacingAndGlyphs" stroke="#111" stroke-width="0.35" transform="translate(12.3,104.3) rotate(-90)">Intensity (a.u.)</text>
<text x="97.5" y="221.4" font-family="'Liberation Sans', sans-serif" font-size="9.8" font-weight="bold" text-anchor="start" fill="#111" textLength="86.2" lengthAdjust="spacingAndGlyphs" stroke="#111" stroke-width="0.35" >Binding energy (eV)</text>
</g>
<g id="pb">
<polyline points="296.4,188.8 296.4,7.4 539.2,7.4 539.2,188.8" fill="none" stroke="#9c9c9c" stroke-width="1.3"/>
<line x1="296.4" y1="188.8" x2="539.2" y2="188.8" stroke="#999" stroke-width="1.3"/>
<line x1="296.5" y1="187.5" x2="296.5" y2="191" stroke="#555" stroke-width="1.0"/>
<text x="297.5" y="200.5" font-family="'Liberation Sans', sans-serif" font-size="9.5" font-weight="bold" text-anchor="middle" fill="#111" textLength="14.2" lengthAdjust="spacingAndGlyphs" stroke="#111" stroke-width="0.35" >280</text>
<line x1="342" y1="187.5" x2="342" y2="191" stroke="#555" stroke-width="1.0"/>
<text x="342.9" y="200.5" font-family="'Liberation Sans', sans-serif" font-size="9.5" font-weight="bold" text-anchor="middle" fill="#111" textLength="14.2" lengthAdjust="spacingAndGlyphs" stroke="#111" stroke-width="0.35" >282</text>
<line x1="393.4" y1="187.5" x2="393.4" y2="191" stroke="#555" stroke-width="1.0"/>
<text x="395" y="200.5" font-family="'Liberation Sans', sans-serif" font-size="9.5" font-weight="bold" text-anchor="middle" fill="#111" textLength="14.2" lengthAdjust="spacingAndGlyphs" stroke="#111" stroke-width="0.35" >284</text>
<line x1="445.3" y1="187.5" x2="445.3" y2="191" stroke="#555" stroke-width="1.0"/>
<text x="447.7" y="200.5" font-family="'Liberation Sans', sans-serif" font-size="9.5" font-weight="bold" text-anchor="middle" fill="#111" textLength="14.2" lengthAdjust="spacingAndGlyphs" stroke="#111" stroke-width="0.35" >286</text>
<line x1="494.4" y1="187.5" x2="494.4" y2="191" stroke="#555" stroke-width="1.0"/>
<text x="494.9" y="200.5" font-family="'Liberation Sans', sans-serif" font-size="9.5" font-weight="bold" text-anchor="middle" fill="#111" textLength="14.2" lengthAdjust="spacingAndGlyphs" stroke="#111" stroke-width="0.35" >288</text>
<line x1="538.7" y1="187.5" x2="538.7" y2="191" stroke="#555" stroke-width="1.0"/>
<text x="541" y="200.5" font-family="'Liberation Sans', sans-serif" font-size="9.5" font-weight="bold" text-anchor="middle" fill="#111" textLength="14.2" lengthAdjust="spacingAndGlyphs" stroke="#111" stroke-width="0.35" >290</text>
<polyline points="297.5,187.4 298,187.4 298.5,187.4 299,187.3 299.5,187.3 300,187.3 300.5,187.3 301,187.2 301.5,187.2 302,187.2 302.5,187.2 303,187.2 303.5,187.1 304,187.1 304.5,187.1 305,187.1 305.5,187.1 306,187 306.5,187 307,187 307.5,187 308,186.9 308.5,186.9 309,186.9 309.5,186.9 310,186.9 310.5,186.8 311,186.8 311.5,186.8 312,186.8 312.5,186.7 313,186.7 313.5,186.7 314,186.7 314.5,186.7 315,186.6 315.5,186.6 316,186.6 316.5,186.6 317,186.5 317.5,186.5 318,186.5 318.5,186.5 319,186.5 319.5,186.4 320,186.4 320.5,186.4 321,186.4 321.5,186.3 322,186.3 322.5,186.3 323,186.3 323.5,186.3 324,186.2 324.5,186.2 325,186.2 325.5,186.2 326,186.1 326.5,186.1 327,186.1 327.5,186.1 328,186 328.5,186 329,186 329.5,186 330,186 330.5,185.9 331,185.9 331.5,185.9 332,185.9 332.5,185.8 333,185.8 333.5,185.8 334,185.8 334.5,185.8 335,185.7 335.5,185.7 336,185.7 336.5,185.7 337,185.6 337.5,185.6 338,185.6 338.5,185.6 339,185.5 339.5,185.5 340,185.5 340.5,185.5 341,185.5 341.5,185.4 342,185.4 342.5,185.4 343,185.4 343.5,185.3 344,185.3 344.5,185.3 345,185.3 345.5,185.2 346,185.2 346.5,185.2 347,185.2 347.5,185.2 348,185.1 348.5,185.1 349,185.1 349.5,185.1 350,185 350.5,185 351,185 351.5,185 352,184.9 352.5,184.9 353,184.9 353.5,184.9 354,184.9 354.5,184.8 355,184.8 355.5,184.8 356,184.8 356.5,184.7 357,184.7 357.5,184.7 358,184.7 358.5,184.6 359,184.6 359.5,184.6 360,184.6 360.5,184.5 361,184.5 361.5,184.5 362,184.5 362.5,184.5 363,184.4 363.5,184.4 364,184.4 364.5,184.4 365,184.3 365.5,184.3 366,184.3 366.5,184.3 367,184.2 367.5,184.2 368,184.2 368.5,184.2 369,184.1 369.5,184.1 370,184.1 370.5,184.1 371,184 371.5,184 372,184 372.5,184 373,183.9 373.5,183.9 374,183.9 374.5,183.9 375,183.8 375.5,183.8 376,183.8 376.5,183.8 377,183.7 377.5,183.7 378,183.7 378.5,183.7 379,183.6 379.5,183.6 380,183.6 380.5,183.6 381,183.5 381.5,183.5 382,183.5 382.5,183.5 383,183.4 383.5,183.4 384,183.4 384.5,183.4 385,183.3 385.5,183.3 386,183.3 386.5,183.3 387,183.2 387.5,183.2 388,183.2 388.5,183.2 389,183.1 389.5,183.1 390,183.1 390.5,183.1 391,183 391.5,183 392,183 392.5,182.9 393,182.9 393.5,182.9 394,182.9 394.5,182.8 395,182.8 395.5,182.8 396,182.8 396.5,182.7 397,182.7 397.5,182.7 398,182.6 398.5,182.6 399,182.6 399.5,182.6 400,182.5 400.5,182.5 401,182.5 401.5,182.5 402,182.4 402.5,182.4 403,182.4 403.5,182.4 404,182.3 404.5,182.3 405,182.3 405.5,182.2 406,182.2 406.5,182.2 407,182.2 407.5,182.1 408,182.1 408.5,182.1 409,182.1 409.5,182 410,182 410.5,182 411,182 411.5,181.9 412,181.9 412.5,181.9 413,181.9 413.5,181.8 414,181.8 414.5,181.8 415,181.7 415.5,181.7 416,181.7 416.5,181.7 417,181.6 417.5,181.6 418,181.6 418.5,181.6 419,181.5 419.5,181.5 420,181.5 420.5,181.5 421,181.4 421.5,181.4 422,181.4 422.5,181.4 423,181.3 423.5,181.3 424,181.3 424.5,181.2 425,181.2 425.5,181.2 426,181.2 426.5,181.1 427,181.1 427.5,181.1 428,181 428.5,181 429,181 429.5,181 430,180.9 430.5,180.9 431,180.9 431.5,180.9 432,180.8 432.5,180.8 433,180.8 433.5,180.7 434,180.7 434.5,180.7 435,180.7 435.5,180.6 436,180.6 436.5,180.6 437,180.6 437.5,180.5 438,180.5 438.5,180.5 439,180.5 439.5,180.5 440,180.4 440.5,180.4 441,180.4 441.5,180.4 442,180.3 442.5,180.3 443,180.3 443.5,180.3 444,180.3 444.5,180.3 445,180.2 445.5,180.2 446,180.2 446.5,180.2 447,180.2 447.5,180.2 448,180.1 448.5,180.1 449,180.1 449.5,180.1 450,180.1 450.5,180.1 451,180.1 451.5,180.1 452,180.1 452.5,180.1 453,180 453.5,180 454,180 454.5,180 455,180 455.5,180 456,180 456.5,180 457,180 457.5,180 458,180 458.5,180 459,179.9 459.5,179.9 460,179.9 460.5,179.9 461,179.9 461.5,179.9 462,179.9 462.5,179.9 463,179.9 463.5,179.9 464,179.9 464.5,179.9 465,179.9 465.5,179.9 466,179.9 466.5,179.8 467,179.8 467.5,179.8 468,179.8 468.5,179.8 469,179.8 469.5,179.8 470,179.8 470.5,179.8 471,179.8 471.5,179.8 472,179.8 472.5,179.8 473,179.8 473.5,179.8 474,179.8 474.5,179.8 475,179.8 475.5,179.8 476,179.7 476.5,179.7 477,179.7 477.5,179.7 478,179.7 478.5,179.7 479,179.7 479.5,179.7 480,179.7 480.5,179.7 481,179.7 481.5,179.7 482,179.7 482.5,179.7 483,179.7 483.5,179.7 484,179.7 484.5,179.7 485,179.7 485.5,179.7 486,179.6 486.5,179.6 487,179.6 487.5,179.6 488,179.6 488.5,179.6 489,179.6 489.5,179.6 490,179.6 490.5,179.6 491,179.6 491.5,179.6 492,179.6 492.5,179.6 493,179.6 493.5,179.6 494,179.6 494.5,179.6 495,179.6 495.5,179.6 496,179.5 496.5,179.5 497,179.5 497.5,179.5 498,179.5 498.5,179.5 499,179.5 499.5,179.5 500,179.5 500.5,179.5 501,179.5 501.5,179.5 502,179.5 502.5,179.5 503,179.5 503.5,179.5 504,179.5 504.5,179.5 505,179.5 505.5,179.5 506,179.5 506.5,179.4 507,179.4 507.5,179.4 508,179.4 508.5,179.4 509,179.4 509.5,179.4 510,179.4 510.5,179.4 511,179.4 511.5,179.4 512,179.4 512.5,179.4 513,179.4 513.5,179.4 514,179.4 514.5,179.4 515,179.4 515.5,179.4 516,179.4 516.5,179.4 517,179.4 517.5,179.3 518,179.3 518.5,179.3 519,179.3 519.5,179.3 520,179.3 520.5,179.3 521,179.3 521.5,179.3 522,179.3 522.5,179.3 523,179.3 523.5,179.3 524,179.3 524.5,179.3 525,179.3 525.5,179.3 526,179.3 526.5,179.3 527,179.3 527.5,179.3 528,179.3 528.5,179.3 529,179.3 529.5,179.2 530,179.2 530.5,179.2 531,179.2 531.5,179.2 532,179.2 532.5,179.2 533,179.2 533.5,179.2 534,179.2 534.5,179.2 535,179.2 535.5,179.2 536,179.2" fill="none" stroke="#1a2aa8" stroke-width="2.2" stroke-linejoin="round" />
<polyline points="297.5,186.8 298,186.8 298.5,186.8 299,186.8 299.5,186.8 300,186.8 300.5,186.8 301,186.8 301.5,186.7 302,186.7 302.5,186.7 303,186.7 303.5,186.7 304,186.7 304.5,186.6 305,186.6 305.5,186.6 306,186.6 306.5,186.6 307,186.5 307.5,186.5 308,186.5 308.5,186.4 309,186.4 309.5,186.4 310,186.4 310.5,186.3 311,186.3 311.5,186.3 312,186.2 312.5,186.2 313,186.2 313.5,186.1 314,186.1 314.5,186 315,186 315.5,186 316,185.9 316.5,185.9 317,185.9 317.5,185.8 318,185.8 318.5,185.7 319,185.7 319.5,185.6 320,185.6 320.5,185.5 321,185.5 321.5,185.4 322,185.3 322.5,185.3 323,185.2 323.5,185.1 324,185.1 324.5,185 325,184.9 325.5,184.8 326,184.7 326.5,184.6 327,184.6 327.5,184.5 328,184.4 328.5,184.3 329,184.2 329.5,184.1 330,184 330.5,183.9 331,183.8 331.5,183.7 332,183.6 332.5,183.5 333,183.4 333.5,183.3 334,183.2 334.5,183.1 335,183 335.5,182.8 336,182.7 336.5,182.6 337,182.4 337.5,182.2 338,182.1 338.5,181.9 339,181.7 339.5,181.5 340,181.3 340.5,181.1 341,180.7 341.5,180.4 342,180 342.5,179.7 343,179.3 343.5,178.9 344,178.5 344.5,178.1 345,177.8 345.5,177.5 346,177.2 346.5,176.8 347,176.4 347.5,176 348,175.4 348.5,174.8 349,173.7 349.5,172.2 350,170.6 350.5,169 351,167.5 351.5,165.9 352,164.3 352.5,162.5 353,160.7 353.5,158.7 354,156.6 354.5,154.4 355,152 355.5,149.4 356,146.5 356.5,142.8 357,138.4 357.5,133.8 358,129.8 358.5,126.5 359,123.6 359.5,120.8 360,117.8 360.5,114.7 361,111.4 361.5,108 362,104.5 362.5,101.1 363,97.6 363.5,94.2 364,90.7 364.5,87 365,83.4 365.5,79.9 366,76.6 366.5,73.8 367,71.3 367.5,69.1 368,67.5 368.5,66.5 369,65.8 369.5,65.8 370,66.5 370.5,67.5 371,68.9 371.5,71 372,73.3 372.5,75.8 373,78.7 373.5,81.8 374,85.1 374.5,88.7 375,92.5 375.5,96.6 376,101.5 376.5,106.9 377,112.2 377.5,116.6 378,120.1 378.5,123.1 379,126 379.5,129.1 380,132.8 380.5,136.9 381,141.1 381.5,145 382,148.9 382.5,152.7 383,156 383.5,158.3 384,160.1 384.5,161.6 385,162.9 385.5,164 386,165 386.5,165.9 387,166.8 387.5,167.6 388,168.3 388.5,169 389,169.6 389.5,170.2 390,170.7 390.5,171.2 391,171.6 391.5,172.1 392,172.5 392.5,172.9 393,173.2 393.5,173.6 394,173.9 394.5,174.2 395,174.5 395.5,174.8 396,175.1 396.5,175.3 397,175.6 397.5,175.9 398,176.1 398.5,176.3 399,176.5 399.5,176.7 400,176.9 400.5,177.1 401,177.2 401.5,177.3 402,177.4 402.5,177.5 403,177.6 403.5,177.7 404,177.8 404.5,177.9 405,178 405.5,178.1 406,178.2 406.5,178.3 407,178.3 407.5,178.4 408,178.5 408.5,178.6 409,178.6 409.5,178.7 410,178.8 410.5,178.8 411,178.9 411.5,178.9 412,179 412.5,179 413,179.1 413.5,179.1 414,179.2 414.5,179.2 415,179.2 415.5,179.3 416,179.3 416.5,179.3 417,179.4 417.5,179.4 418,179.4 418.5,179.5 419,179.5 419.5,179.5 420,179.5 420.5,179.6 421,179.6 421.5,179.6 422,179.7 422.5,179.7 423,179.7 423.5,179.7 424,179.8 424.5,179.8 425,179.8 425.5,179.8 426,179.9 426.5,179.9 427,179.9 427.5,179.9 428,179.9 428.5,180 429,180 429.5,180 430,180 430.5,180 431,180 431.5,180.1 432,180.1 432.5,180.1 433,180.1 433.5,180.1 434,180.1 434.5,180.1 435,180.2 435.5,180.2 436,180.2 436.5,180.2 437,180.2 437.5,180.2 438,180.2 438.5,180.2 439,180.2 439.5,180.2 440,180.2 440.5,180.2 441,180.2 441.5,180.2 442,180.2 442.5,180.2 443,180.2 443.5,180.2 444,180.2 444.5,180.2 445,180.2 445.5,180.2 446,180.2 446.5,180.2 447,180.2 447.5,180.2 448,180.2 448.5,180.2 449,180.2 449.5,180.2 450,180.2 450.5,180.2 451,180.2 451.5,180.2 452,180.2 452.5,180.2 453,180.2 453.5,180.2 454,180.2 454.5,180.2 455,180.2 455.5,180.2 456,180.2 456.5,180.2 457,180.2 457.5,180.2 458,180.2 458.5,180.2 459,180.2 459.5,180.2 460,180.2 460.5,180.2 461,180.2 461.5,180.2 462,180.2 462.5,180.2 463,180.2 463.5,180.2 464,180.2 464.5,180.2 465,180.2 465.5,180.2 466,180.2 466.5,180.2 467,180.2 467.5,180.2 468,180.2 468.5,180.2 469,180.2 469.5,180.2 470,180.2 470.5,180.2 471,180.2 471.5,180.2 472,180.2 472.5,180.2 473,180.2 473.5,180.2 474,180.2 474.5,180.2 475,180.2 475.5,180.2 476,180.2 476.5,180.2 477,180.2 477.5,180.2 478,180.1 478.5,180.1 479,180.1 479.5,180.1 480,180.1 480.5,180.1 481,180.1 481.5,180.1 482,180.1 482.5,180.1 483,180.1 483.5,180.1 484,180.1 484.5,180 485,180 485.5,180 486,180 486.5,180 487,180 487.5,180 488,180 488.5,180 489,180 489.5,180 490,179.9 490.5,179.9 491,179.9 491.5,179.9 492,179.9 492.5,179.9 493,179.9 493.5,179.9 494,179.9 494.5,179.9 495,179.9 495.5,179.9 496,179.9 496.5,179.8 497,179.8 497.5,179.8 498,179.8 498.5,179.8 499,179.8 499.5,179.8 500,179.8 500.5,179.8 501,179.8 501.5,179.8 502,179.8 502.5,179.8 503,179.8 503.5,179.8 504,179.8 504.5,179.8 505,179.7 505.5,179.7 506,179.7 506.5,179.7 507,179.7 507.5,179.7 508,179.7 508.5,179.7 509,179.7 509.5,179.7 510,179.7 510.5,179.7 511,179.7 511.5,179.7 512,179.7 512.5,179.7 513,179.7 513.5,179.7 514,179.7 514.5,179.7 515,179.7 515.5,179.7 516,179.6 516.5,179.6 517,179.6 517.5,179.6 518,179.6 518.5,179.6 519,179.6 519.5,179.6 520,179.6 520.5,179.6 521,179.6 521.5,179.6 522,179.6 522.5,179.6 523,179.6 523.5,179.6 524,179.6 524.5,179.6 525,179.6 525.5,179.6 526,179.6 526.5,179.6 527,179.6 527.5,179.6 528,179.6 528.5,179.5 529,179.5 529.5,179.5 530,179.5 530.5,179.5 531,179.5 531.5,179.5 532,179.5 532.5,179.5 533,179.5 533.5,179.5 534,179.5 534.5,179.5 535,179.5 535.5,179.5 536,179.5" fill="none" stroke="#22dd22" stroke-width="1.4" stroke-linejoin="round" />
<polyline points="297.5,187 298,187 298.5,187 299,187 299.5,186.9 300,186.9 300.5,186.9 301,186.9 301.5,186.9 302,186.9 302.5,186.8 303,186.8 303.5,186.8 304,186.8 304.5,186.8 305,186.7 305.5,186.7 306,186.7 306.5,186.7 307,186.7 307.5,186.6 308,186.6 308.5,186.6 309,186.6 309.5,186.6 310,186.5 310.5,186.5 311,186.5 311.5,186.5 312,186.5 312.5,186.4 313,186.4 313.5,186.4 314,186.4 314.5,186.3 315,186.3 315.5,186.3 316,186.3 316.5,186.2 317,186.2 317.5,186.2 318,186.2 318.5,186.1 319,186.1 319.5,186.1 320,186.1 320.5,186 321,186 321.5,186 322,186 322.5,185.9 323,185.9 323.5,185.9 324,185.8 324.5,185.8 325,185.8 325.5,185.8 326,185.7 326.5,185.7 327,185.7 327.5,185.6 328,185.6 328.5,185.6 329,185.6 329.5,185.5 330,185.5 330.5,185.5 331,185.4 331.5,185.4 332,185.4 332.5,185.4 333,185.3 333.5,185.3 334,185.3 334.5,185.2 335,185.2 335.5,185.2 336,185.2 336.5,185.1 337,185.1 337.5,185.1 338,185 338.5,185 339,185 339.5,184.9 340,184.9 340.5,184.9 341,184.8 341.5,184.8 342,184.8 342.5,184.7 343,184.7 343.5,184.6 344,184.6 344.5,184.6 345,184.5 345.5,184.5 346,184.4 346.5,184.4 347,184.3 347.5,184.3 348,184.2 348.5,184.2 349,184.1 349.5,184.1 350,184 350.5,183.9 351,183.9 351.5,183.8 352,183.8 352.5,183.7 353,183.6 353.5,183.5 354,183.5 354.5,183.4 355,183.3 355.5,183.2 356,183.1 356.5,183 357,182.9 357.5,182.7 358,182.6 358.5,182.5 359,182.3 359.5,182.2 360,182 360.5,181.9 361,181.7 361.5,181.5 362,181.3 362.5,181 363,180.6 363.5,180.1 364,179.6 364.5,179.1 365,178.5 365.5,177.9 366,177.3 366.5,176.6 367,176 367.5,175.3 368,174.5 368.5,173.7 369,172.8 369.5,171.8 370,170.9 370.5,169.9 371,168.9 371.5,167.9 372,166.9 372.5,166 373,165.1 373.5,164.2 374,163.3 374.5,162.4 375,161.5 375.5,160.6 376,159.7 376.5,158.8 377,157.9 377.5,157 378,156 378.5,155 379,154 379.5,152.9 380,151.8 380.5,150.8 381,149.7 381.5,148.6 382,147.5 382.5,146.5 383,145.6 383.5,144.6 384,143.7 384.5,142.7 385,141.8 385.5,141.1 386,140.5 386.5,140 387,139.6 387.5,139.3 388,139.2 388.5,139.3 389,139.6 389.5,140 390,140.5 390.5,141.2 391,142.4 391.5,143.7 392,145 392.5,146.4 393,147.9 393.5,149.4 394,151 394.5,152.6 395,154 395.5,155.4 396,156.7 396.5,158.1 397,159.4 397.5,160.6 398,161.7 398.5,162.8 399,163.8 399.5,164.7 400,165.6 400.5,166.5 401,167.3 401.5,168.1 402,168.8 402.5,169.4 403,170 403.5,170.5 404,171 404.5,171.5 405,171.9 405.5,172.3 406,172.7 406.5,173.1 407,173.4 407.5,173.8 408,174.1 408.5,174.4 409,174.7 409.5,175 410,175.3 410.5,175.6 411,175.9 411.5,176.2 412,176.4 412.5,176.7 413,176.9 413.5,177.2 414,177.4 414.5,177.6 415,177.8 415.5,177.9 416,178 416.5,178.1 417,178.2 417.5,178.3 418,178.3 418.5,178.4 419,178.5 419.5,178.6 420,178.6 420.5,178.7 421,178.7 421.5,178.8 422,178.9 422.5,178.9 423,179 423.5,179 424,179.1 424.5,179.1 425,179.1 425.5,179.2 426,179.2 426.5,179.2 427,179.3 427.5,179.3 428,179.3 428.5,179.3 429,179.4 429.5,179.4 430,179.4 430.5,179.4 431,179.4 431.5,179.4 432,179.5 432.5,179.5 433,179.5 433.5,179.5 434,179.5 434.5,179.5 435,179.5 435.5,179.5 436,179.5 436.5,179.6 437,179.6 437.5,179.6 438,179.6 438.5,179.6 439,179.6 439.5,179.6 440,179.6 440.5,179.6 441,179.6 441.5,179.6 442,179.7 442.5,179.7 443,179.7 443.5,179.7 444,179.7 444.5,179.7 445,179.7 445.5,179.7 446,179.7 446.5,179.7 447,179.7 447.5,179.7 448,179.7 448.5,179.7 449,179.7 449.5,179.7 450,179.8 450.5,179.8 451,179.8 451.5,179.8 452,179.8 452.5,179.8 453,179.8 453.5,179.8 454,179.8 454.5,179.8 455,179.8 455.5,179.8 456,179.8 456.5,179.8 457,179.8 457.5,179.8 458,179.8 458.5,179.8 459,179.8 459.5,179.8 460,179.8 460.5,179.8 461,179.8 461.5,179.8 462,179.8 462.5,179.8 463,179.8 463.5,179.8 464,179.8 464.5,179.8 465,179.8 465.5,179.8 466,179.8 466.5,179.8 467,179.8 467.5,179.8 468,179.8 468.5,179.8 469,179.8 469.5,179.8 470,179.8 470.5,179.8 471,179.8 471.5,179.8 472,179.8 472.5,179.7 473,179.7 473.5,179.7 474,179.7 474.5,179.7 475,179.7 475.5,179.7 476,179.7 476.5,179.7 477,179.7 477.5,179.7 478,179.7 478.5,179.7 479,179.7 479.5,179.7 480,179.7 480.5,179.7 481,179.7 481.5,179.7 482,179.7 482.5,179.7 483,179.7 483.5,179.6 484,179.6 484.5,179.6 485,179.6 485.5,179.6 486,179.6 486.5,179.6 487,179.6 487.5,179.6 488,179.6 488.5,179.6 489,179.6 489.5,179.6 490,179.6 490.5,179.6 491,179.6 491.5,179.6 492,179.6 492.5,179.6 493,179.6 493.5,179.6 494,179.5 494.5,179.5 495,179.5 495.5,179.5 496,179.5 496.5,179.5 497,179.5 497.5,179.5 498,179.5 498.5,179.5 499,179.5 499.5,179.5 500,179.5 500.5,179.5 501,179.5 501.5,179.5 502,179.5 502.5,179.5 503,179.5 503.5,179.5 504,179.5 504.5,179.5 505,179.5 505.5,179.5 506,179.5 506.5,179.5 507,179.5 507.5,179.5 508,179.5 508.5,179.4 509,179.4 509.5,179.4 510,179.4 510.5,179.4 511,179.4 511.5,179.4 512,179.4 512.5,179.4 513,179.4 513.5,179.4 514,179.4 514.5,179.4 515,179.4 515.5,179.4 516,179.4 516.5,179.4 517,179.4 517.5,179.4 518,179.4 518.5,179.4 519,179.4 519.5,179.4 520,179.4 520.5,179.4 521,179.4 521.5,179.4 522,179.4 522.5,179.4 523,179.4 523.5,179.4 524,179.4 524.5,179.4 525,179.4 525.5,179.4 526,179.3 526.5,179.3 527,179.3 527.5,179.3 528,179.3 528.5,179.3 529,179.3 529.5,179.3 530,179.3 530.5,179.3 531,179.3 531.5,179.3 532,179.3 532.5,179.3 533,179.3 533.5,179.3 534,179.3 534.5,179.3 535,179.3 535.5,179.3 536,179.3" fill="none" stroke="#4a1ad0" stroke-width="1.5" stroke-linejoin="round" />
<polyline points="297.5,187 298,187 298.5,187 299,187 299.5,187 300,187 300.5,187 301,187 301.5,187 302,187 302.5,187 303,187 303.5,187 304,187 304.5,187 305,187 305.5,187 306,186.9 306.5,186.9 307,186.9 307.5,186.9 308,186.9 308.5,186.9 309,186.9 309.5,186.9 310,186.9 310.5,186.9 311,186.9 311.5,186.9 312,186.9 312.5,186.8 313,186.8 313.5,186.8 314,186.8 314.5,186.8 315,186.8 315.5,186.8 316,186.8 316.5,186.8 317,186.7 317.5,186.7 318,186.7 318.5,186.7 319,186.7 319.5,186.7 320,186.7 320.5,186.7 321,186.6 321.5,186.6 322,186.6 322.5,186.6 323,186.6 323.5,186.6 324,186.6 324.5,186.5 325,186.5 325.5,186.5 326,186.5 326.5,186.5 327,186.5 327.5,186.4 328,186.4 328.5,186.4 329,186.4 329.5,186.4 330,186.4 330.5,186.3 331,186.3 331.5,186.3 332,186.3 332.5,186.3 333,186.3 333.5,186.2 334,186.2 334.5,186.2 335,186.2 335.5,186.2 336,186.2 336.5,186.1 337,186.1 337.5,186.1 338,186.1 338.5,186.1 339,186 339.5,186 340,186 340.5,186 341,186 341.5,185.9 342,185.9 342.5,185.9 343,185.9 343.5,185.8 344,185.8 344.5,185.8 345,185.8 345.5,185.7 346,185.7 346.5,185.7 347,185.6 347.5,185.6 348,185.6 348.5,185.5 349,185.5 349.5,185.5 350,185.4 350.5,185.4 351,185.4 351.5,185.3 352,185.3 352.5,185.2 353,185.2 353.5,185.1 354,185.1 354.5,185.1 355,185 355.5,185 356,184.9 356.5,184.9 357,184.8 357.5,184.8 358,184.7 358.5,184.7 359,184.6 359.5,184.6 360,184.5 360.5,184.4 361,184.4 361.5,184.3 362,184.3 362.5,184.2 363,184.1 363.5,184.1 364,184 364.5,183.9 365,183.9 365.5,183.8 366,183.7 366.5,183.6 367,183.5 367.5,183.4 368,183.3 368.5,183.2 369,183.1 369.5,183 370,182.9 370.5,182.8 371,182.7 371.5,182.5 372,182.4 372.5,182.3 373,182.1 373.5,182 374,181.8 374.5,181.7 375,181.5 375.5,181.3 376,181.1 376.5,180.8 377,180.5 377.5,180.2 378,179.8 378.5,179.4 379,179 379.5,178.6 380,178.1 380.5,177.6 381,177.1 381.5,176.6 382,176.1 382.5,175.5 383,175 383.5,174.4 384,173.8 384.5,173.2 385,172.5 385.5,171.7 386,170.9 386.5,170.1 387,169.3 387.5,168.4 388,167.5 388.5,166.5 389,165.6 389.5,164.6 390,163.6 390.5,162.4 391,161.2 391.5,159.9 392,158.5 392.5,157.2 393,156 393.5,154.9 394,153.7 394.5,152.6 395,151.5 395.5,150.5 396,149.5 396.5,148.5 397,147.5 397.5,146.5 398,145.5 398.5,144.6 399,143.8 399.5,143 400,142.5 400.5,142.1 401,141.6 401.5,141.2 402,140.9 402.5,140.6 403,140.3 403.5,140.2 404,140.2 404.5,140.4 405,140.6 405.5,141 406,141.5 406.5,142 407,142.5 407.5,143.2 408,144.2 408.5,145.3 409,146.6 409.5,148 410,149.3 410.5,150.6 411,151.8 411.5,153 412,154.2 412.5,155.3 413,156.5 413.5,157.5 414,158.5 414.5,159.4 415,160.3 415.5,161.2 416,162 416.5,162.7 417,163.4 417.5,164.1 418,164.7 418.5,165.3 419,165.8 419.5,166.4 420,166.9 420.5,167.4 421,167.8 421.5,168.2 422,168.6 422.5,169 423,169.4 423.5,169.7 424,170.1 424.5,170.4 425,170.7 425.5,171 426,171.2 426.5,171.5 427,171.7 427.5,172 428,172.2 428.5,172.5 429,172.7 429.5,172.9 430,173.1 430.5,173.4 431,173.6 431.5,173.8 432,173.9 432.5,174.1 433,174.3 433.5,174.4 434,174.6 434.5,174.7 435,174.8 435.5,174.9 436,175 436.5,175.1 437,175.2 437.5,175.3 438,175.4 438.5,175.4 439,175.5 439.5,175.6 440,175.6 440.5,175.7 441,175.8 441.5,175.8 442,175.9 442.5,175.9 443,176 443.5,176 444,176.1 444.5,176.1 445,176.2 445.5,176.2 446,176.3 446.5,176.3 447,176.4 447.5,176.4 448,176.4 448.5,176.5 449,176.5 449.5,176.6 450,176.6 450.5,176.6 451,176.7 451.5,176.7 452,176.8 452.5,176.8 453,176.8 453.5,176.9 454,176.9 454.5,176.9 455,177 455.5,177 456,177.1 456.5,177.1 457,177.1 457.5,177.2 458,177.2 458.5,177.2 459,177.3 459.5,177.3 460,177.3 460.5,177.4 461,177.4 461.5,177.4 462,177.4 462.5,177.5 463,177.5 463.5,177.5 464,177.5 464.5,177.6 465,177.6 465.5,177.6 466,177.6 466.5,177.7 467,177.7 467.5,177.7 468,177.7 468.5,177.7 469,177.8 469.5,177.8 470,177.8 470.5,177.8 471,177.8 471.5,177.8 472,177.9 472.5,177.9 473,177.9 473.5,177.9 474,177.9 474.5,177.9 475,177.9 475.5,178 476,178 476.5,178 477,178 477.5,178 478,178 478.5,178 479,178 479.5,178.1 480,178.1 480.5,178.1 481,178.1 481.5,178.1 482,178.1 482.5,178.1 483,178.1 483.5,178.1 484,178.1 484.5,178.2 485,178.2 485.5,178.2 486,178.2 486.5,178.2 487,178.2 487.5,178.2 488,178.2 488.5,178.2 489,178.2 489.5,178.2 490,178.2 490.5,178.3 491,178.3 491.5,178.3 492,178.3 492.5,178.3 493,178.3 493.5,178.3 494,178.3 494.5,178.3 495,178.3 495.5,178.3 496,178.3 496.5,178.3 497,178.4 497.5,178.4 498,178.4 498.5,178.4 499,178.4 499.5,178.4 500,178.4 500.5,178.4 501,178.4 501.5,178.4 502,178.4 502.5,178.4 503,178.4 503.5,178.4 504,178.5 504.5,178.5 505,178.5 505.5,178.5 506,178.5 506.5,178.5 507,178.5 507.5,178.5 508,178.5 508.5,178.5 509,178.5 509.5,178.5 510,178.5 510.5,178.5 511,178.6 511.5,178.6 512,178.6 512.5,178.6 513,178.6 513.5,178.6 514,178.6 514.5,178.6 515,178.6 515.5,178.6 516,178.6 516.5,178.6 517,178.6 517.5,178.6 518,178.6 518.5,178.6 519,178.6 519.5,178.7 520,178.7 520.5,178.7 521,178.7 521.5,178.7 522,178.7 522.5,178.7 523,178.7 523.5,178.7 524,178.7 524.5,178.7 525,178.7 525.5,178.7 526,178.7 526.5,178.7 527,178.7 527.5,178.7 528,178.7 528.5,178.7 529,178.7 529.5,178.8 530,178.8 530.5,178.8 531,178.8 531.5,178.8 532,178.8 532.5,178.8 533,178.8 533.5,178.8 534,178.8 534.5,178.8 535,178.8 535.5,178.8 536,178.8" fill="none" stroke="#ee22ee" stroke-width="1.4" stroke-linejoin="round" />
<polyline points="297.5,187 298,187 298.5,187 299,187 299.5,187 300,187 300.5,187 301,187 301.5,187 302,187 302.5,186.9 303,186.9 303.5,186.9 304,186.9 304.5,186.9 305,186.9 305.5,186.9 306,186.9 306.5,186.9 307,186.9 307.5,186.8 308,186.8 308.5,186.8 309,186.8 309.5,186.8 310,186.8 310.5,186.8 311,186.7 311.5,186.7 312,186.7 312.5,186.7 313,186.7 313.5,186.7 314,186.6 314.5,186.6 315,186.6 315.5,186.6 316,186.6 316.5,186.6 317,186.5 317.5,186.5 318,186.5 318.5,186.5 319,186.5 319.5,186.4 320,186.4 320.5,186.4 321,186.4 321.5,186.4 322,186.3 322.5,186.3 323,186.3 323.5,186.3 324,186.3 324.5,186.2 325,186.2 325.5,186.2 326,186.2 326.5,186.2 327,186.1 327.5,186.1 328,186.1 328.5,186.1 329,186 329.5,186 330,186 330.5,186 331,186 331.5,185.9 332,185.9 332.5,185.9 333,185.9 333.5,185.8 334,185.8 334.5,185.8 335,185.7 335.5,185.7 336,185.7 336.5,185.7 337,185.6 337.5,185.6 338,185.6 338.5,185.5 339,185.5 339.5,185.5 340,185.4 340.5,185.4 341,185.3 341.5,185.3 342,185.3 342.5,185.2 343,185.2 343.5,185.1 344,185.1 344.5,185 345,185 345.5,185 346,184.9 346.5,184.8 347,184.8 347.5,184.7 348,184.7 348.5,184.6 349,184.5 349.5,184.5 350,184.4 350.5,184.3 351,184.3 351.5,184.2 352,184.1 352.5,184 353,183.9 353.5,183.8 354,183.8 354.5,183.7 355,183.6 355.5,183.5 356,183.4 356.5,183.3 357,183.2 357.5,183.1 358,183 358.5,182.9 359,182.8 359.5,182.6 360,182.5 360.5,182.4 361,182.3 361.5,182.1 362,182 362.5,181.9 363,181.7 363.5,181.6 364,181.4 364.5,181.3 365,181.1 365.5,181 366,180.8 366.5,180.7 367,180.5 367.5,180.4 368,180.2 368.5,180 369,179.9 369.5,179.7 370,179.5 370.5,179.3 371,179.1 371.5,178.9 372,178.7 372.5,178.5 373,178.3 373.5,178.1 374,177.9 374.5,177.7 375,177.4 375.5,177.2 376,176.9 376.5,176.7 377,176.4 377.5,176.2 378,175.9 378.5,175.6 379,175.3 379.5,175.1 380,174.8 380.5,174.5 381,174.2 381.5,173.9 382,173.5 382.5,173.2 383,172.9 383.5,172.6 384,172.2 384.5,171.9 385,171.5 385.5,171.1 386,170.7 386.5,170.3 387,169.9 387.5,169.4 388,169 388.5,168.5 389,168 389.5,167.5 390,167 390.5,166.5 391,166 391.5,165.5 392,165 392.5,164.5 393,163.9 393.5,163.3 394,162.8 394.5,162.2 395,161.6 395.5,160.9 396,160.3 396.5,159.6 397,159 397.5,158.3 398,157.6 398.5,156.9 399,156.2 399.5,155.4 400,154.7 400.5,153.9 401,153.2 401.5,152.3 402,151.5 402.5,150.7 403,149.8 403.5,148.9 404,147.9 404.5,147 405,146 405.5,145 406,143.9 406.5,142.8 407,141.7 407.5,140.6 408,139.5 408.5,138.5 409,137.4 409.5,136.4 410,135.4 410.5,134.4 411,133.4 411.5,132.4 412,131.5 412.5,130.6 413,129.6 413.5,128.7 414,127.8 414.5,126.9 415,126.1 415.5,125.3 416,124.5 416.5,123.7 417,123 417.5,122.2 418,121.5 418.5,120.9 419,120.5 419.5,120.1 420,119.8 420.5,119.5 421,119.2 421.5,119.1 422,119 422.5,119 423,119.1 423.5,119.1 424,119.2 424.5,119.4 425,119.5 425.5,119.7 426,120.2 426.5,120.7 427,121.3 427.5,121.9 428,122.5 428.5,123.1 429,123.7 429.5,124.3 430,124.9 430.5,125.6 431,126.3 431.5,126.9 432,127.7 432.5,128.4 433,129.1 433.5,129.9 434,130.6 434.5,131.4 435,132.3 435.5,133.1 436,134 436.5,134.9 437,135.7 437.5,136.6 438,137.5 438.5,138.4 439,139.3 439.5,140.2 440,141.1 440.5,142 441,142.9 441.5,143.8 442,144.7 442.5,145.6 443,146.4 443.5,147.2 444,148.1 444.5,148.9 445,149.7 445.5,150.5 446,151.3 446.5,152.1 447,152.8 447.5,153.6 448,154.4 448.5,155.1 449,155.9 449.5,156.6 450,157.3 450.5,158 451,158.8 451.5,159.4 452,160.1 452.5,160.7 453,161.3 453.5,161.9 454,162.4 454.5,163 455,163.5 455.5,164 456,164.5 456.5,164.9 457,165.4 457.5,165.8 458,166.2 458.5,166.5 459,166.8 459.5,167.1 460,167.4 460.5,167.6 461,167.9 461.5,168.1 462,168.4 462.5,168.6 463,168.8 463.5,169.1 464,169.3 464.5,169.6 465,169.8 465.5,170.1 466,170.4 466.5,170.6 467,170.9 467.5,171.1 468,171.3 468.5,171.5 469,171.7 469.5,171.9 470,172 470.5,172.2 471,172.4 471.5,172.5 472,172.7 472.5,172.9 473,173 473.5,173.2 474,173.3 474.5,173.4 475,173.6 475.5,173.7 476,173.8 476.5,173.9 477,174 477.5,174.1 478,174.2 478.5,174.4 479,174.5 479.5,174.6 480,174.7 480.5,174.7 481,174.8 481.5,174.9 482,175 482.5,175.1 483,175.2 483.5,175.2 484,175.3 484.5,175.4 485,175.4 485.5,175.5 486,175.6 486.5,175.6 487,175.7 487.5,175.7 488,175.8 488.5,175.8 489,175.8 489.5,175.9 490,175.9 490.5,176 491,176 491.5,176 492,176.1 492.5,176.1 493,176.2 493.5,176.2 494,176.2 494.5,176.3 495,176.3 495.5,176.3 496,176.3 496.5,176.4 497,176.4 497.5,176.4 498,176.5 498.5,176.5 499,176.5 499.5,176.6 500,176.6 500.5,176.6 501,176.7 501.5,176.7 502,176.7 502.5,176.8 503,176.8 503.5,176.8 504,176.8 504.5,176.9 505,176.9 505.5,176.9 506,177 506.5,177 507,177 507.5,177 508,177.1 508.5,177.1 509,177.1 509.5,177.1 510,177.2 510.5,177.2 511,177.2 511.5,177.2 512,177.3 512.5,177.3 513,177.3 513.5,177.3 514,177.4 514.5,177.4 515,177.4 515.5,177.4 516,177.5 516.5,177.5 517,177.5 517.5,177.5 518,177.5 518.5,177.6 519,177.6 519.5,177.6 520,177.6 520.5,177.6 521,177.7 521.5,177.7 522,177.7 522.5,177.7 523,177.7 523.5,177.8 524,177.8 524.5,177.8 525,177.8 525.5,177.8 526,177.9 526.5,177.9 527,177.9 527.5,177.9 528,177.9 528.5,178 529,178 529.5,178 530,178 530.5,178 531,178 531.5,178.1 532,178.1 532.5,178.1 533,178.1 533.5,178.1 534,178.1 534.5,178.2 535,178.2 535.5,178.2 536,178.2" fill="none" stroke="#141480" stroke-width="1.7" stroke-linejoin="round" />
<polyline points="298,183.6 298.5,183.6 299,183.6 299.5,183.5 300,183.5 300.5,183.5 301,183.4 301.5,183.4 302,183.4 302.5,183.3 303,183.3 303.5,183.2 304,183.2 304.5,183.1 305,183.1 305.5,183 306,183 306.5,182.9 307,182.9 307.5,182.8 308,182.8 308.5,182.7 309,182.7 309.5,182.6 310,182.5 310.5,182.5 311,182.4 311.5,182.4 312,182.3 312.5,182.2 313,182.2 313.5,182.1 314,182 314.5,182 315,181.9 315.5,181.8 316,181.8 316.5,181.7 317,181.6 317.5,181.5 318,181.5 318.5,181.4 319,181.3 319.5,181.2 320,181.2 320.5,181.1 321,181 321.5,180.9 322,180.8 322.5,180.7 323,180.6 323.5,180.5 324,180.4 324.5,180.3 325,180.2 325.5,180.1 326,180 326.5,179.9 327,179.7 327.5,179.6 328,179.5 328.5,179.4 329,179.2 329.5,179.1 330,178.9 330.5,178.8 331,178.6 331.5,178.5 332,178.3 332.5,178.2 333,178 333.5,177.8 334,177.6 334.5,177.4 335,177.2 335.5,177 336,176.8 336.5,176.5 337,176.3 337.5,176.1 338,175.8 338.5,175.5 339,175.3 339.5,175 340,174.6 340.5,174.3 341,173.9 341.5,173.5 342,173.1 342.5,172.6 343,172.1 343.5,171.5 344,170.9 344.5,170.3 345,169.6 345.5,168.9 346,168 346.5,167.1 347,166 347.5,164.9 348,163.8 348.5,162.7 349,161.6 349.5,160.5 350,159.4 350.5,158.3 351,157 351.5,155.6 352,154 352.5,152 353,149.9 353.5,147.8 354,145.7 354.5,143.6 355,141.5 355.5,138.9 356,136 356.5,132.7 357,129 357.5,124.7 358,120.1 358.5,115.8 359,111.8 359.5,108.1 360,104.4 360.5,100.6 361,96.6 361.5,92.2 362,87.1 362.5,81.7 363,76.2 363.5,71 364,66.3 364.5,62.5 365,59.4 365.5,56.7 366,54.2 366.5,52 367,49.9 367.5,48 368,46.3 368.5,45 369,44 369.5,43.2 370,43 370.5,43.4 371,44.1 371.5,45 372,46.4 372.5,48.5 373,51.1 373.5,54.2 374,58.3 374.5,62.8 375,67 375.5,70.2 376,73 376.5,75.6 377,77.9 377.5,79.8 378,81.6 378.5,83.2 379,84.8 379.5,86.2 380,87.3 380.5,88.2 381,88.7 381.5,89.2 382,89.7 382.5,90.1 383,90.5 383.5,90.8 384,91.1 384.5,91.4 385,91.5 385.5,91.6 386,91.7 386.5,91.7 387,91.6 387.5,91.4 388,91.2 388.5,91 389,90.7 389.5,90.5 390,90.2 390.5,89.9 391,89.7 391.5,89.5 392,89.3 392.5,89.2 393,89 393.5,88.9 394,88.7 394.5,88.6 395,88.4 395.5,88.2 396,88.1 396.5,87.9 397,87.7 397.5,87.5 398,87.3 398.5,87.1 399,86.9 399.5,86.8 400,86.7 400.5,86.6 401,86.5 401.5,86.5 402,86.5 402.5,86.6 403,86.8 403.5,86.9 404,87.1 404.5,87.3 405,87.5 405.5,87.7 406,87.9 406.5,88.1 407,88.4 407.5,88.6 408,88.9 408.5,89.2 409,89.5 409.5,89.7 410,90 410.5,90.3 411,90.5 411.5,90.8 412,91 412.5,91.3 413,91.6 413.5,91.8 414,92.1 414.5,92.4 415,92.7 415.5,93.1 416,93.4 416.5,93.8 417,94.3 417.5,94.7 418,95.3 418.5,95.8 419,96.4 419.5,97.1 420,97.8 420.5,98.5 421,99.2 421.5,100 422,100.8 422.5,101.6 423,102.4 423.5,103.2 424,104 424.5,104.8 425,105.7 425.5,106.6 426,107.6 426.5,108.6 427,109.6 427.5,110.6 428,111.7 428.5,112.7 429,113.8 429.5,114.8 430,115.8 430.5,116.8 431,117.7 431.5,118.6 432,119.5 432.5,120.4 433,121.3 433.5,122.1 434,123 434.5,123.9 435,124.7 435.5,125.6 436,126.4 436.5,127.3 437,128.2 437.5,129.1 438,130 438.5,130.9 439,131.8 439.5,132.7 440,133.6 440.5,134.5 441,135.4 441.5,136.3 442,137.2 442.5,138.2 443,139.1 443.5,140.1 444,141.1 444.5,142.2 445,143.3 445.5,144.5 446,145.9 446.5,147.4 447,149.1 447.5,150.7 448,152.1 448.5,153.4 449,154.4 449.5,155 450,155.6 450.5,156.2 451,156.7 451.5,157.1 452,157.6 452.5,158 453,158.3 453.5,158.7 454,159 454.5,159.3 455,159.6 455.5,159.9 456,160.3 456.5,160.6 457,160.9 457.5,161.3 458,161.6 458.5,162 459,162.5 459.5,162.9 460,163.3 460.5,163.8 461,164.3 461.5,164.7 462,165.2 462.5,165.6 463,166.1 463.5,166.5 464,166.9 464.5,167.3 465,167.7 465.5,168 466,168.3 466.5,168.6 467,168.9 467.5,169.1 468,169.3 468.5,169.5 469,169.7 469.5,169.8 470,170 470.5,170.2 471,170.4 471.5,170.5 472,170.7 472.5,170.8 473,171 473.5,171.1 474,171.3 474.5,171.4 475,171.5 475.5,171.7 476,171.8 476.5,171.9 477,172 477.5,172.1 478,172.2 478.5,172.4 479,172.5 479.5,172.6 480,172.7 480.5,172.8 481,172.9 481.5,172.9 482,173 482.5,173.1 483,173.2 483.5,173.3 484,173.4 484.5,173.4 485,173.5 485.5,173.6 486,173.7 486.5,173.7 487,173.8 487.5,173.9 488,174 488.5,174 489,174.1 489.5,174.2 490,174.2 490.5,174.3 491,174.4 491.5,174.4 492,174.5 492.5,174.5 493,174.6 493.5,174.6 494,174.7 494.5,174.8 495,174.8 495.5,174.9 496,174.9 496.5,175 497,175 497.5,175.1 498,175.1 498.5,175.2 499,175.2 499.5,175.3 500,175.3 500.5,175.4 501,175.4 501.5,175.5 502,175.5 502.5,175.5 503,175.6 503.5,175.6 504,175.7 504.5,175.7 505,175.8 505.5,175.8 506,175.8 506.5,175.9 507,175.9 507.5,176 508,176 508.5,176.1 509,176.1 509.5,176.1 510,176.2 510.5,176.2 511,176.3 511.5,176.3 512,176.3 512.5,176.4 513,176.4 513.5,176.5 514,176.5 514.5,176.5 515,176.6 515.5,176.6 516,176.7 516.5,176.7 517,176.7 517.5,176.8 518,176.8 518.5,176.9 519,176.9 519.5,176.9 520,177 520.5,177 521,177 521.5,177.1 522,177.1 522.5,177.2 523,177.2 523.5,177.2 524,177.3 524.5,177.3 525,177.3 525.5,177.4 526,177.4 526.5,177.4 527,177.5 527.5,177.5 528,177.5 528.5,177.6 529,177.6 529.5,177.6 530,177.7 530.5,177.7 531,177.7 531.5,177.7 532,177.8 532.5,177.8 533,177.8 533.5,177.9 534,177.9 534.5,177.9 535,177.9 535.5,178 536,178" fill="none" stroke="#e01818" stroke-width="1.5" stroke-linejoin="round" />
<polyline points="351.9,159.9 352.4,157 352.9,151.8 353.4,144.9 353.9,137 354.4,128.8 354.9,121.5 355.4,115.7 355.9,111.2 356.4,106.9 356.9,101.7 357.4,94.2 357.9,85.6 358.4,77.1 358.9,68.7 359.4,61.1 359.9,53.9 360.4,47.4 360.9,41.6 361.4,35.8 361.9,30.4 362.4,25.8 362.9,22 365.3,19 365.8,16.4 366.3,14.1 366.8,12.3 367.3,11.4 367.8,12.8 368.3,14.9 368.8,16.7 369.3,18.7 369.8,20.8 370.3,23.1 370.8,25.6 371.3,28.1 371.8,30.3 372.3,32.8 372.8,35.3 373.3,37.8 373.8,40.3 374.3,42.7 374.8,45.1 375.3,47.7 375.8,50.7 376.3,53.7 376.8,56.6 377.3,59.3 377.8,61.6 378.3,63.9 378.8,66 379.3,68.1 379.8,70.2 380.3,72.1 380.8,73.7 381.3,75.1 381.8,76.2 382.3,77.1 382.8,77.9 383.3,78.6 383.8,79.2 384.3,80 384.8,79.9 385.3,80 385.8,80.1 386.3,80.6 386.8,81.7 387.3,82.5 387.8,83 388.3,82.8 388.8,82.4 389.3,82 389.8,81.7 390.3,81.8 390.8,81.9 391.3,82 391.8,81.9 392.3,81.5 392.8,81.2 393.3,80.9 393.8,81.4 394.3,82 394.8,82.5 395.3,82.9 395.8,82.9 396.3,83 396.8,83 397.3,83 397.8,82.9 398.3,82.9 398.8,82.8 399.3,82.6 399.8,82.4 400.3,82.2 400.8,82.3 401.3,82.5 401.8,82.8 402.3,83 402.8,82.8 403.3,82.6 403.8,82.3 404.3,82 404.8,81.8 405.3,81.6 405.8,81.3 406.3,81.5 406.8,81.8 407.3,82.1 407.8,82.3 408.3,81.7 408.8,81.1 409.3,80.6 409.8,80.8 410.3,81.7 410.8,82.8 411.3,84 411.8,84.4 412.3,85 412.8,85.6 413.3,85.9 413.8,85.8 414.3,85.7 414.8,85.6 415.3,86.7 415.8,88.1 416.3,89.5 416.8,90.6 417.3,90.8 417.8,90.9 418.3,91.1 418.8,91.8 419.3,92.8 419.8,93.9 420.3,94.9 420.8,95.7 421.3,96.4 421.8,97.2 422.3,97.7 422.8,97.8 423.3,97.9 423.8,98.1 424.3,99.3 424.8,100.7 425.3,102.1 425.8,103.4 426.3,104.3 426.8,105.1 427.3,106 427.8,107.1 428.3,108.4 428.8,109.7 429.3,111 429.8,111.2 430.3,111.4 430.8,111.6 431.3,112.3 431.8,113.8 432.3,115.3 432.8,116.8 433.3,117.2 433.8,117.3 434.3,117.4 434.8,117.7 435.3,118.6 435.8,119.6 436.3,120.5 436.8,121.2 437.3,121.8 437.8,122.4 438.3,122.9 438.8,124.5 439.3,126.1 439.8,127.7 440.3,128.9 440.8,129.6 441.3,130.2 441.8,130.9 442.3,132.4 442.8,134 443.3,135.7 443.8,137.1 444.3,137.6 444.8,138 445.3,138.5 445.8,139.3 446.3,140.5 446.8,141.6 447.3,142.7 447.8,143.9 448.3,145 448.8,146.2 449.3,147.2 449.8,147.8 450.3,148.4 450.8,149 451.3,150 451.8,151 452.3,151.9 452.8,152.8 453.3,153.9 453.8,154.9 454.3,155.9 454.8,156.2 455.3,156.1 455.8,156 456.3,155.9 456.8,156.5 457.3,157.1 457.8,157.7 458.3,158.3 458.8,158.7 459.3,159.1 459.8,159.5 460.3,160.2 460.8,160.9 461.3,161.7 461.8,162.4 462.3,162.6 462.8,162.9 463.3,163.1 463.8,163.6 464.3,164.2 464.8,164.8 465.3,165.4 465.8,166.1 466.3,166.7 466.8,167.2 467.3,167.7 467.8,168 468.3,168.3 468.8,168.5 469.3,168.5 469.8,168.5 470.3,168.4 470.8,168.5 471.3,169.4 471.8,170.2 472.3,171 472.8,171 473.3,170.5 473.8,170 474.3,169.5 474.8,169.7 475.3,170 475.8,170.2 476.3,170.4 476.8,170.6 477.3,170.7 477.8,170.9 478.3,171.6 478.8,172.5 479.3,173.4 479.8,174.1 480.3,173.8 480.8,173.5 481.3,173.2 481.8,173 482.3,173 482.8,172.9 483.3,172.8 483.8,172.8 484.3,172.9 484.8,172.9 485.3,173.2 485.8,173.8 486.3,174.4 486.8,175 487.3,174.8 487.8,174.4 488.3,173.9 488.8,173.6 489.3,173.6 489.8,173.6 490.3,173.6 490.8,174 491.3,174.7 491.8,175.3 492.3,176 492.8,175.5 493.3,174.9 493.8,174.4 494.3,174.2 494.8,174.5 495.3,174.8 495.8,175.2 496.3,175.4 496.8,175.5 497.3,175.7 497.8,175.8 498.3,175.6 498.8,175.5 499.3,175.4 499.8,175.5 500.3,175.7 500.8,175.8 501.3,176 501.8,176.5 502.3,177 502.8,177.5 503.3,177.6 503.8,177 504.3,176.4 504.8,175.8 505.3,175.5 505.8,175.3 506.3,175.1 506.8,174.9 507.3,174.7 507.8,174.6 508.3,174.4 508.8,174.7 509.3,175.3 509.8,175.9 510.3,176.5 510.8,176.5 511.3,176.5 511.8,176.4 512.3,176.5 512.8,176.8 513.3,177 513.8,177.3 514.3,177.2 514.8,177 515.3,176.8 515.8,176.6 516.3,176.7 516.8,176.7 517.3,176.7 517.8,176.7 518.3,176.7 518.8,176.6 519.3,176.6 519.8,176.7 520.3,176.8 520.8,176.9 521.3,177.1 521.8,177.4 522.3,177.6 522.8,177.9 523.3,177.9 523.8,177.7 524.3,177.6 524.8,177.5 525.3,177.7 525.8,177.9 526.3,178.1 526.8,178.6 527.3,179.2 527.8,179.8 528.3,180.5 528.8,180.1 529.3,179.6 529.8,179.2 530.3,178.7 530.8,178 531.3,177.4 531.8,176.7 532.3,177.5 532.8,178.7 533.3,179.8 533.8,180.6 534.3,180.2 534.8,179.8 535.3,179.4 535.8,179" fill="none" stroke="#2ab8c8" stroke-width="1.3" stroke-linejoin="round" />
<polyline points="340.1,183.2 340.8,183.5 341.5,183.7 341.9,183.4 342.3,182.6 342.7,182.1 343,182.5 343.7,182.9 344.4,182.8 344.6,182.6 344.8,182.1 345.6,181.2 346.4,180 346.7,179.4 347,178.6 347.7,177.6 348.4,176.3 348.9,175 349.3,173.5 349.7,172 350,170.6 350.7,169.3 351.4,168 351.8,166.6 352.3,165.1 352.7,164.9 353,164.6 353.9,163.2 354.8,160.9 355.1,158.6 355.4,156.4 355.6,151.8 355.8,144.5 356.4,136.1 356.9,127.8 357.6,120.5 358.3,114.8 358.8,110.2 359.3,105.8 359.6,101.1 360,94.3 360.8,86 361.6,76.9 361.9,67.9 362.2,60.5 362.6,53.5 362.9,46.7 363,40.2 362.9,33.9 362.9,28.9 362.9,24.6 363.2,20.9 363.5,17.6 364.1,15.2 364.8,14.3 365.1,13.3 365.5,11.9 366.2,12.3 366.9,13.9 367.5,15.8 368.2,17.8 368.3,20.6 368.2,23.8 369.2,25.8 370.2,26.9 370.2,28.5 370.3,32.4 371.1,36.2 371.9,37.7 372.3,38.5 372.7,40.6 373,44.6 373.3,48.6 374,49.9 374.7,51.1 375,52.7 375.3,54.6 376.2,56.8 377.2,60.3 377.6,63.6 378,65.5 378.9,67.1 379.7,69.5 379.4,72.8 379.1,75.5 380.4,75.8 381.7,76 381.8,76.6 382,77.6 382.6,78.3 383.2,78.6 383.6,79 383.9,79.5 384.9,80.1 385.9,80.8 386.4,81.8 386.8,82.4 387.2,83.3 387.6,84.1 387.9,83.6 388.2,82.4 387.9,81.3 387.6,80.7 389,80 390.3,79.7 390.7,79.5 391,79.6 391.4,80.3 391.9,81 392.6,80.7 393.3,80.3 394,81.6 394.7,83.9 394.9,85.2 395.2,82.7 395.4,80.2 395.7,79.8 396.1,79.9 396.5,80.3 397.4,81 398.2,81.7 398.9,82.5 399.7,83.4 400,83.3 400.3,82.5 400.8,81.8 401.3,81.3 401.5,80.7 401.7,80.7 402,80.8 402.3,80.9 403.4,81.2 404.6,81.4 405,82.3 405.4,83.2 405.1,82.4 404.9,80.6 405.7,79.3 406.6,79.9 407.6,80.5 408.6,80.2 409.1,79.7 409.6,79.9 409.6,81 409.6,82.3 411,82.9 412.4,83.6 412.6,83.5 412.8,82.7 413.2,82.9 413.6,86.9 413.7,90.9 413.9,90.8 414,89.6 414.2,88.9 415.3,88.9 416.5,89 417.3,89.3 418.1,89.6 418.3,90.4 418.5,91.6 418.5,92.7 418.4,93.7 419.5,94.6 420.7,95.8 420.6,97 420.6,97.9 420.6,98.2 420.7,98.5 421.9,99.7 423.2,101 422.8,100.9 422.4,100 423.7,99.6 425.1,101.2 425.8,102.8 426.6,103.6 427.1,104.3 427.6,105.4 428.6,107.3 429.6,109.2 429.5,110.3 429.4,111.5 429.4,111.6 429.4,110.8 430.4,110.6 431.4,112.6 431.9,114.4 432.4,116 432.5,117.5 432.7,118.7 432.8,119.6 433,120.5 433.9,119.5 434.8,118.5 435.2,119.4 435.6,121.5 436.2,123.3 436.8,123.9 437.3,124.5 437.9,124.7 438.7,124.9 439.5,126.2 439.9,129.2 440.4,132.1 441.1,130.5 441.9,129 441.8,129.4 441.7,131.1 442.6,132.9 443.5,134.5 443.2,136.2 443,137.3 444,138.1 445,138.9 445,139.6 445,140.4 445.8,142.8 446.5,145.2 447.5,147 448.6,148.2 448.5,149.3 448.4,150 449.6,150.5 450.9,151.5 451.4,152.4 452,152.8 452.2,152.6 452.3,152.3 452.6,151.9 452.8,151.5 453.1,153.3 453.4,156.6 454,158.7 454.5,156.6 455.2,155 456,156.3 456.2,158.2 456.4,159.1 457.2,158.5 457.9,157.9 458.2,158.5 458.5,159.2 459.5,159.7 460.4,160.1 460.1,160.6 459.9,161.7 461.1,162.8 462.3,162.9 462.9,162.8 463.6,163.4 463.5,165 463.4,166.6 464.6,166.5 465.9,166.4 466.4,166.5 466.9,166.8 467.2,166.9 467.4,166.9 467.3,166.8 467.1,167.4 468.1,168 469.2,168.4 469.1,168.6 469,168.7 469.9,169.8 470.7,170.9 471,171.2 471.2,171 472.2,170.6 473.1,169.7 473.3,168.8 473.6,169.9 474.4,171.5 475.2,171.8 475.9,170.2 476.6,168.6 476.6,170.6 476.6,172.5 477.5,172.5 478.3,171.1 478.5,170.1 478.8,171.1 479.3,172.2 479.9,172.8 480.3,173.3 480.8,173.5 481.2,173.2 481.5,172.9 482.1,172.6 482.7,172.2 483.6,172.7 484.5,173.9 485.1,174.5 485.6,173.2 485.8,171.9 486,171.8 486.7,172 487.5,172.7 488,174.1 488.6,175.5 489,174.5 489.4,173.5 489.1,173.5 488.7,174 489.8,174.6 490.9,174.9 491.9,175.2 492.8,174.9 493,174.6 493.2,174.4 493.6,174.7 493.9,174.9 494.4,174.9 494.8,174.8 495.5,174.9 496.2,175 496.5,175.1 496.8,175.6 497.6,176.1 498.5,176.1 498.7,176 498.9,175.9 499.5,175.7 500,175.4 500.6,175.7 501.3,176 502,175.8 502.7,175.1 502.8,174.6 502.9,174.5 503.6,174.5 504.3,174.4 504.6,174.3 504.8,174.6 505.1,175.5 505.3,176.3 506.1,176.8 507,177.2 507.7,177 508.3,176.3 508.8,175.6 509.2,174.7 509.6,173.8 509.9,174.2 510.4,174.9 510.8,175.5 511.1,176 511.3,176.5 512.1,176.4 512.9,176.4 513.9,176.4 514.9,176.3 514.9,176.4 514.9,176.8 515.4,177.3 516,177.4 516.9,177.4 517.8,177 517.9,176 518.1,175 518.6,175.9 519.2,176.7 519.2,176.8 519.3,176.3 520.4,176 521.5,176.4 522.2,176.9 522.8,177.4 522.9,177.9 523,178.4 523.8,178.7 524.6,179 525.1,178.5 525.6,178 525,177.5 524.4,177 526.1,176.6 527.8,176.7 527.5,176.8 527.2,177.2 528.2,177.7 529.3,177.7 529.8,177 530.3,176.4 530.6,176.8 530.9,177.3 531.3,177.7 531.8,178 532.3,178.3 532.8,178.5 533.2,178.7 533.7,178.3 534.2,177.8" fill="none" stroke="#111" stroke-width="1.2" stroke-linejoin="round" />
<line x1="359.1" y1="51.6" x2="367.7" y2="57" stroke="#111" stroke-width="1.3"/>
<line x1="390.2" y1="27.5" x2="390.2" y2="132.5" stroke="#111" stroke-width="1.2"/>
<line x1="424" y1="68.5" x2="403" y2="138.8" stroke="#111" stroke-width="1.2"/>
<line x1="453.7" y1="80" x2="426.3" y2="119.8" stroke="#111" stroke-width="1.2"/>
<text x="380.9" y="23.2" font-family="'Liberation Sans', sans-serif" font-size="10" font-weight="bold" text-anchor="start" fill="#111" textLength="85.1" lengthAdjust="spacingAndGlyphs" stroke="#111" stroke-width="0.35" >C(O)OH (283.7 eV)</text>
<text x="397.3" y="65" font-family="'Liberation Sans', sans-serif" font-size="10" font-weight="bold" text-anchor="start" fill="#111" textLength="64.5" lengthAdjust="spacingAndGlyphs" stroke="#111" stroke-width="0.35" >C-C (284.5 eV)</text>
<text x="459.5" y="84.8" font-family="'Liberation Sans', sans-serif" font-size="10" font-weight="bold" text-anchor="start" fill="#111" textLength="66.5" lengthAdjust="spacingAndGlyphs" stroke="#111" stroke-width="0.35" >C-O (285.4 eV)</text>
<line x1="476.8" y1="34.7" x2="499.3" y2="34.7" stroke="#8a18d8" stroke-width="2.0"/>
<line x1="476.8" y1="50.7" x2="499.3" y2="50.7" stroke="#ee22ee" stroke-width="2.0"/>
<line x1="476.8" y1="64.7" x2="499.3" y2="64.7" stroke="#1a2a8c" stroke-width="2.0"/>
<text x="502" y="37.8" font-family="'Liberation Sans', sans-serif" font-size="10.4" font-weight="bold" text-anchor="start" fill="#111" textLength="34.6" lengthAdjust="spacingAndGlyphs" stroke="#111" stroke-width="0.35" >C(O)OH</text>
<text x="505.5" y="53.5" font-family="'Liberation Sans', sans-serif" font-size="10" font-weight="bold" text-anchor="start" fill="#111" textLength="14.7" lengthAdjust="spacingAndGlyphs" stroke="#111" stroke-width="0.35" >C-C</text>
<text x="503.4" y="67.1" font-family="'Liberation Sans', sans-serif" font-size="10" font-weight="bold" text-anchor="start" fill="#111" textLength="18.7" lengthAdjust="spacingAndGlyphs" stroke="#111" stroke-width="0.35" >C=O</text>
<text x="508.5" y="21.8" font-family="'Liberation Sans', sans-serif" font-size="12.3" font-weight="bold" text-anchor="start" fill="#111" textLength="23.5" lengthAdjust="spacingAndGlyphs" stroke="#111" stroke-width="0.35" >rGO</text>
<text x="303.6" y="36.9" font-family="'Liberation Serif', serif" font-size="26" font-weight="bold" text-anchor="start" fill="#000" >b)</text>
<text x="0" y="0" font-family="'Liberation Sans', sans-serif" font-size="8.6" font-weight="bold" text-anchor="middle" fill="#111" textLength="65.2" lengthAdjust="spacingAndGlyphs" stroke="#111" stroke-width="0.35" transform="translate(290.0,93.4) rotate(-90)">Intensity (a.u.)</text>
<text x="377" y="216.4" font-family="'Liberation Sans', sans-serif" font-size="10.2" font-weight="bold" text-anchor="start" fill="#111" textLength="89.9" lengthAdjust="spacingAndGlyphs" stroke="#111" stroke-width="0.35" >Binding energy (eV)</text>
</g>
<g id="pc">
<rect x="163.2" y="229.3" width="241.60000000000002" height="190.7" fill="none" stroke="#585858" stroke-width="1.9"/>
<line x1="174.7" y1="417" x2="174.7" y2="420" stroke="#444" stroke-width="1.0"/>
<text x="174.8" y="432.9" font-family="'Liberation Sans', sans-serif" font-size="9.4" font-weight="normal" text-anchor="middle" fill="#222" textLength="15.4" lengthAdjust="spacingAndGlyphs" stroke="#222" stroke-width="0.3" >270</text>
<line x1="210.1" y1="417" x2="210.1" y2="420" stroke="#444" stroke-width="1.0"/>
<text x="209.7" y="432.9" font-family="'Liberation Sans', sans-serif" font-size="9.4" font-weight="normal" text-anchor="middle" fill="#222" textLength="15.4" lengthAdjust="spacingAndGlyphs" stroke="#222" stroke-width="0.3" >275</text>
<line x1="246" y1="417" x2="246" y2="420" stroke="#444" stroke-width="1.0"/>
<text x="245.7" y="432.9" font-family="'Liberation Sans', sans-serif" font-size="9.4" font-weight="normal" text-anchor="middle" fill="#222" textLength="15.4" lengthAdjust="spacingAndGlyphs" stroke="#222" stroke-width="0.3" >280</text>
<line x1="282" y1="417" x2="282" y2="420" stroke="#444" stroke-width="1.0"/>
<text x="282.3" y="432.9" font-family="'Liberation Sans', sans-serif" font-size="9.4" font-weight="normal" text-anchor="middle" fill="#222" textLength="15.4" lengthAdjust="spacingAndGlyphs" stroke="#222" stroke-width="0.3" >285</text>
<line x1="318.4" y1="417" x2="318.4" y2="420" stroke="#444" stroke-width="1.0"/>
<text x="318.6" y="432.9" font-family="'Liberation Sans', sans-serif" font-size="9.4" font-weight="normal" text-anchor="middle" fill="#222" textLength="15.4" lengthAdjust="spacingAndGlyphs" stroke="#222" stroke-width="0.3" >290</text>
<line x1="354.6" y1="417" x2="354.6" y2="420" stroke="#444" stroke-width="1.0"/>
<text x="354.6" y="432.9" font-family="'Liberation Sans', sans-serif" font-size="9.4" font-weight="normal" text-anchor="middle" fill="#222" textLength="15.4" lengthAdjust="spacingAndGlyphs" stroke="#222" stroke-width="0.3" >295</text>
<line x1="390.9" y1="417" x2="390.9" y2="420" stroke="#444" stroke-width="1.0"/>
<text x="390.9" y="432.9" font-family="'Liberation Sans', sans-serif" font-size="9.4" font-weight="normal" text-anchor="middle" fill="#222" textLength="15.4" lengthAdjust="spacingAndGlyphs" stroke="#222" stroke-width="0.3" >300</text>
<polyline points="262,411.8 262.4,411.8 262.8,411.8 263.2,411.8 263.6,411.8 264,411.8 264.4,411.8 264.8,411.8 265.2,411.8 265.6,411.7 266,411.7 266.4,411.7 266.8,411.7 267.2,411.7 267.6,411.7 268,411.7 268.4,411.7 268.8,411.6 269.2,411.6 269.6,411.6 270,411.6 270.4,411.6 270.8,411.6 271.2,411.6 271.6,411.5 272,411.5 272.4,411.5 272.8,411.5 273.2,411.4 273.6,411.4 274,411.4 274.4,411.4 274.8,411.3 275.2,411.3 275.6,411.2 276,411.2 276.4,411 276.8,410.9 277.2,410.6 277.6,410.4 278,410 278.4,409.7 278.8,409.2 279.2,408.8 279.6,408.3 280,407.9 280.4,407.4 280.8,406.9 281.2,406.3 281.6,405.8 282,405.3 282.4,404.7 282.8,404.1 283.2,403.5 283.6,402.8 284,402.1 284.4,401.3 284.8,400.5 285.2,399.6 285.6,398.7 286,397.8 286.4,396.8 286.8,395.8 287.2,394.8 287.6,393.7 288,392.6 288.4,391.3 288.8,390 289.2,388.6 289.6,387.1 290,385.5 290.4,383.8 290.8,382 291.2,380.1 291.6,378.1 292,375.9 292.4,373.4 292.8,370.4 293.2,367.1 293.6,363.6 294,360.1 294.4,356.8 294.8,353.8 295.2,351.1 295.6,348.5 296,346 296.4,343.6 296.8,341.2 297.2,338.9 297.6,336.7 298,334.5 298.4,332.5 298.8,330.5 299.2,328.6 299.6,326.7 300,324.7 300.4,322.6 300.8,320.3 301.2,317.8 301.6,315.1 302,312.4 302.4,309.7 302.8,306.9 303.2,304.1 303.6,301.4 304,299.2 304.4,297.7 304.8,296.4 305.2,295.3 305.6,294.3 306,293.5 306.4,292.8 306.8,292.2 307.2,291.6 307.6,291.2 308,291 308.4,291 308.8,290.9 309.2,290.9 309.6,291 310,292 310.4,293.8 310.8,295.9 311.2,297.6 311.6,299.2 312,300.9 312.4,302.6 312.8,304.3 313.2,306 313.6,307.7 314,309.5 314.4,311.3 314.8,313.1 315.2,314.9 315.6,316.8 316,318.7 316.4,320.6 316.8,322.6 317.2,324.5 317.6,326.6 318,328.6 318.4,330.7 318.8,332.8 319.2,335 319.6,337 320,339.2 320.4,341.4 320.8,343.8 321.2,346.3 321.6,349.2 322,352.3 322.4,355.5 322.8,358.9 323.2,362.1 323.6,365.1 324,368 324.4,370.9 324.8,373.7 325.2,376.3 325.6,378.7 326,380.9 326.4,383.1 326.8,385.2 327.2,387.2 327.6,389.1 328,390.8 328.4,392.4 328.8,393.9 329.2,395.2 329.6,396.4 330,397.6 330.4,398.7 330.8,399.7 331.2,400.6 331.6,401.5 332,402.4 332.4,403.2 332.8,404 333.2,404.7 333.6,405.4 334,406.1 334.4,406.7 334.8,407.3 335.2,407.9 335.6,408.4 336,408.9 336.4,409.4 336.8,409.8 337.2,410.2 337.6,410.6 338,410.9 338.4,411.1 338.8,411.3 339.2,411.5 339.6,411.6 340,411.8 340.4,411.9 340.8,412 341.2,412 341.6,412.1 342,412.1 342.4,412.1 342.8,412.1 343.2,412.1 343.6,412.1 344,412.1 344.4,412.1 344.8,412.1 345.2,412.1 345.6,412.1 346,412.1 346.4,412.1 346.8,412 347.2,412 347.6,412 348,412 348.4,411.9 348.8,411.9 349.2,411.9 349.6,411.8 350,411.8" fill="none" stroke="#33cc33" stroke-width="1.4" stroke-linejoin="round" />
<polyline points="175,411.8 175.4,411.8 175.8,411.8 176.2,411.8 176.6,411.8 177,411.8 177.4,411.8 177.8,411.8 178.2,411.8 178.6,411.8 179,411.8 179.4,411.8 179.8,411.8 180.2,411.8 180.6,411.8 181,411.8 181.4,411.8 181.8,411.8 182.2,411.8 182.6,411.8 183,411.8 183.4,411.8 183.8,411.8 184.2,411.8 184.6,411.8 185,411.8 185.4,411.8 185.8,411.8 186.2,411.8 186.6,411.8 187,411.8 187.4,411.8 187.8,411.8 188.2,411.8 188.6,411.8 189,411.8 189.4,411.8 189.8,411.8 190.2,411.8 190.6,411.8 191,411.8 191.4,411.8 191.8,411.8 192.2,411.8 192.6,411.8 193,411.8 193.4,411.8 193.8,411.8 194.2,411.8 194.6,411.8 195,411.8 195.4,411.8 195.8,411.8 196.2,411.8 196.6,411.8 197,411.8 197.4,411.8 197.8,411.8 198.2,411.8 198.6,411.8 199,411.8 199.4,411.8 199.8,411.8 200.2,411.8 200.6,411.8 201,411.8 201.4,411.8 201.8,411.8 202.2,411.8 202.6,411.8 203,411.8 203.4,411.8 203.8,411.8 204.2,411.8 204.6,411.8 205,411.8 205.4,411.8 205.8,411.8 206.2,411.8 206.6,411.8 207,411.8 207.4,411.8 207.8,411.8 208.2,411.8 208.6,411.8 209,411.8 209.4,411.8 209.8,411.8 210.2,411.8 210.6,411.8 211,411.8 211.4,411.8 211.8,411.8 212.2,411.8 212.6,411.8 213,411.8 213.4,411.8 213.8,411.8 214.2,411.8 214.6,411.8 215,411.8 215.4,411.8 215.8,411.8 216.2,411.8 216.6,411.8 217,411.8 217.4,411.8 217.8,411.8 218.2,411.8 218.6,411.8 219,411.8 219.4,411.8 219.8,411.8 220.2,411.8 220.6,411.8 221,411.8 221.4,411.8 221.8,411.8 222.2,411.8 222.6,411.8 223,411.8 223.4,411.8 223.8,411.8 224.2,411.8 224.6,411.8 225,411.8 225.4,411.8 225.8,411.8 226.2,411.8 226.6,411.8 227,411.8 227.4,411.8 227.8,411.8 228.2,411.8 228.6,411.8 229,411.8 229.4,411.8 229.8,411.8 230.2,411.8 230.6,411.8 231,411.8 231.4,411.8 231.8,411.8 232.2,411.8 232.6,411.8 233,411.8 233.4,411.8 233.8,411.8 234.2,411.8 234.6,411.8 235,411.8 235.4,411.8 235.8,411.8 236.2,411.8 236.6,411.8 237,411.8 237.4,411.8 237.8,411.8 238.2,411.8 238.6,411.8 239,411.8 239.4,411.8 239.8,411.8 240.2,411.8 240.6,411.8 241,411.8 241.4,411.8 241.8,411.8 242.2,411.8 242.6,411.8 243,411.8 243.4,411.8 243.8,411.8 244.2,411.8 244.6,411.8 245,411.8 245.4,411.8 245.8,411.8 246.2,411.8 246.6,411.8 247,411.8 247.4,411.8 247.8,411.8 248.2,411.8 248.6,411.8 249,411.8 249.4,411.8 249.8,411.8 250.2,411.8 250.6,411.8 251,411.8 251.4,411.8 251.8,411.8 252.2,411.8 252.6,411.8 253,411.8 253.4,411.8 253.8,411.8 254.2,411.8 254.6,411.8 255,411.8 255.4,411.8 255.8,411.8 256.2,411.8 256.6,411.8 257,411.8 257.4,411.8 257.8,411.8 258.2,411.8 258.6,411.8 259,411.8 259.4,411.8 259.8,411.8 260.2,411.8 260.6,411.8 261,411.8 261.4,411.8 261.8,411.8 262.2,411.8 262.6,411.8 263,411.8 263.4,411.8 263.8,411.8 264.2,411.8 264.6,411.8 265,411.8 265.4,411.8 265.8,411.8 266.2,411.8 266.6,411.8 267,411.8 267.4,411.8 267.8,411.8 268.2,411.8 268.6,411.8 269,411.8 269.4,411.8 269.8,411.8 270.2,411.8 270.6,411.8 271,411.8 271.4,411.8 271.8,411.8 272.2,411.8 272.6,411.8 273,411.8 273.4,411.8 273.8,411.8 274.2,411.8 274.6,411.8 275,411.8 275.4,411.8 275.8,411.8 276.2,411.8 276.6,411.8 277,411.8 277.4,411.8 277.8,411.8 278.2,411.8 278.6,411.8 279,411.8 279.4,411.8 279.8,411.7 280.2,411.7 280.6,411.7 281,411.7 281.4,411.6 281.8,411.6 282.2,411.5 282.6,411.4 283,411.3 283.4,411.1 283.8,410.9 284.2,410.7 284.6,410.4 285,410 285.4,409.6 285.8,409.1 286.2,408.5 286.6,407.7 287,406.9 287.4,405.9 287.8,404.7 288.2,403.3 288.6,401.8 289,400.1 289.4,398.1 289.8,396 290.2,393.6 290.6,391 291,388.2 291.4,385.2 291.8,382 292.2,378.7 292.6,375.2 293,371.6 293.4,368 293.8,364.3 294.2,360.7 294.6,357.2 295,353.8 295.4,350.6 295.8,347.7 296.2,345.1 296.6,342.8 297,341 297.4,339.5 297.8,338.6 298.2,338.1 298.6,338.1 299,338.6 299.4,339.5 299.8,341 300.2,342.8 300.6,345.1 301,347.7 301.4,350.6 301.8,353.8 302.2,357.2 302.6,360.7 303,364.3 303.4,368 303.8,371.6 304.2,375.2 304.6,378.7 305,382 305.4,385.2 305.8,388.2 306.2,391 306.6,393.6 307,396 307.4,398.1 307.8,400.1 308.2,401.8 308.6,403.3 309,404.7 309.4,405.9 309.8,406.9 310.2,407.7 310.6,408.5 311,409.1 311.4,409.6 311.8,410 312.2,410.4 312.6,410.7 313,410.9 313.4,411.1 313.8,411.3 314.2,411.4 314.6,411.5 315,411.6 315.4,411.6 315.8,411.7 316.2,411.7 316.6,411.7 317,411.7 317.4,411.8 317.8,411.8 318.2,411.8 318.6,411.8 319,411.8 319.4,411.8 319.8,411.8 320.2,411.8 320.6,411.8 321,411.8 321.4,411.8 321.8,411.8 322.2,411.8 322.6,411.8 323,411.8 323.4,411.8 323.8,411.8 324.2,411.8 324.6,411.8 325,411.8 325.4,411.8 325.8,411.8 326.2,411.8 326.6,411.8 327,411.8 327.4,411.8 327.8,411.8 328.2,411.8 328.6,411.8 329,411.8 329.4,411.8 329.8,411.8 330.2,411.8 330.6,411.8 331,411.8 331.4,411.8 331.8,411.8 332.2,411.8 332.6,411.8 333,411.8 333.4,411.8 333.8,411.8 334.2,411.8 334.6,411.8 335,411.8 335.4,411.8 335.8,411.8 336.2,411.8 336.6,411.8 337,411.8 337.4,411.8 337.8,411.8 338.2,411.8 338.6,411.8 339,411.8 339.4,411.8 339.8,411.8 340.2,411.8 340.6,411.8 341,411.8 341.4,411.8 341.8,411.8 342.2,411.8 342.6,411.8 343,411.8 343.4,411.8 343.8,411.8 344.2,411.8 344.6,411.8 345,411.8 345.4,411.8 345.8,411.8 346.2,411.8 346.6,411.8 347,411.8 347.4,411.8 347.8,411.8 348.2,411.8 348.6,411.8 349,411.8 349.4,411.8 349.8,411.8 350.2,411.8 350.6,411.8 351,411.8 351.4,411.8 351.8,411.8 352.2,411.8 352.6,411.8 353,411.8 353.4,411.8 353.8,411.8 354.2,411.8 354.6,411.8 355,411.8 355.4,411.8 355.8,411.8 356.2,411.8 356.6,411.8 357,411.8 357.4,411.8 357.8,411.8 358.2,411.8 358.6,411.8 359,411.8 359.4,411.8 359.8,411.8 360.2,411.8 360.6,411.8 361,411.8 361.4,411.8 361.8,411.8 362.2,411.8 362.6,411.8 363,411.8 363.4,411.8 363.8,411.8 364.2,411.8 364.6,411.8 365,411.8 365.4,411.8 365.8,411.8 366.2,411.8 366.6,411.8 367,411.8 367.4,411.8 367.8,411.8 368.2,411.8 368.6,411.8 369,411.8 369.4,411.8 369.8,411.8 370.2,411.8 370.6,411.8 371,411.8 371.4,411.8 371.8,411.8 372.2,411.8 372.6,411.8 373,411.8 373.4,411.8 373.8,411.8 374.2,411.8 374.6,411.8 375,411.8 375.4,411.8 375.8,411.8 376.2,411.8 376.6,411.8 377,411.8 377.4,411.8 377.8,411.8 378.2,411.8 378.6,411.8 379,411.8 379.4,411.8 379.8,411.8 380.2,411.8 380.6,411.8 381,411.8 381.4,411.8 381.8,411.8 382.2,411.8 382.6,411.8 383,411.8 383.4,411.8 383.8,411.8 384.2,411.8 384.6,411.8 385,411.8 385.4,411.8 385.8,411.8 386.2,411.8 386.6,411.8 387,411.8 387.4,411.8 387.8,411.8 388.2,411.8 388.6,411.8 389,411.8 389.4,411.8 389.8,411.8 390.2,411.8 390.6,411.8 391,411.8 391.4,411.8" fill="none" stroke="#cc33cc" stroke-width="1.4" stroke-linejoin="round" />
<polyline points="175,411.8 175.4,411.8 175.8,411.8 176.2,411.8 176.6,411.8 177,411.8 177.4,411.8 177.8,411.8 178.2,411.8 178.6,411.8 179,411.8 179.4,411.8 179.8,411.8 180.2,411.8 180.6,411.8 181,411.8 181.4,411.8 181.8,411.8 182.2,411.8 182.6,411.8 183,411.8 183.4,411.8 183.8,411.8 184.2,411.8 184.6,411.8 185,411.8 185.4,411.8 185.8,411.8 186.2,411.8 186.6,411.8 187,411.8 187.4,411.8 187.8,411.8 188.2,411.8 188.6,411.8 189,411.8 189.4,411.8 189.8,411.8 190.2,411.8 190.6,411.8 191,411.8 191.4,411.8 191.8,411.8 192.2,411.8 192.6,411.8 193,411.8 193.4,411.8 193.8,411.8 194.2,411.8 194.6,411.8 195,411.8 195.4,411.8 195.8,411.8 196.2,411.8 196.6,411.8 197,411.8 197.4,411.8 197.8,411.8 198.2,411.8 198.6,411.8 199,411.8 199.4,411.8 199.8,411.8 200.2,411.8 200.6,411.8 201,411.8 201.4,411.8 201.8,411.8 202.2,411.8 202.6,411.8 203,411.8 203.4,411.8 203.8,411.8 204.2,411.8 204.6,411.8 205,411.8 205.4,411.8 205.8,411.8 206.2,411.8 206.6,411.8 207,411.8 207.4,411.8 207.8,411.8 208.2,411.8 208.6,411.8 209,411.8 209.4,411.8 209.8,411.8 210.2,411.8 210.6,411.8 211,411.8 211.4,411.8 211.8,411.8 212.2,411.8 212.6,411.8 213,411.8 213.4,411.8 213.8,411.8 214.2,411.8 214.6,411.8 215,411.8 215.4,411.8 215.8,411.8 216.2,411.8 216.6,411.8 217,411.8 217.4,411.8 217.8,411.8 218.2,411.8 218.6,411.8 219,411.8 219.4,411.8 219.8,411.8 220.2,411.8 220.6,411.8 221,411.8 221.4,411.8 221.8,411.8 222.2,411.8 222.6,411.8 223,411.8 223.4,411.8 223.8,411.8 224.2,411.8 224.6,411.8 225,411.8 225.4,411.8 225.8,411.8 226.2,411.8 226.6,411.8 227,411.8 227.4,411.8 227.8,411.8 228.2,411.8 228.6,411.8 229,411.8 229.4,411.8 229.8,411.8 230.2,411.8 230.6,411.8 231,411.8 231.4,411.8 231.8,411.8 232.2,411.8 232.6,411.8 233,411.8 233.4,411.8 233.8,411.8 234.2,411.8 234.6,411.8 235,411.8 235.4,411.8 235.8,411.8 236.2,411.8 236.6,411.8 237,411.8 237.4,411.8 237.8,411.8 238.2,411.8 238.6,411.8 239,411.8 239.4,411.8 239.8,411.8 240.2,411.8 240.6,411.8 241,411.8 241.4,411.8 241.8,411.8 242.2,411.8 242.6,411.8 243,411.8 243.4,411.8 243.8,411.8 244.2,411.8 244.6,411.8 245,411.8 245.4,411.8 245.8,411.8 246.2,411.8 246.6,411.8 247,411.8 247.4,411.8 247.8,411.8 248.2,411.8 248.6,411.8 249,411.8 249.4,411.8 249.8,411.8 250.2,411.8 250.6,411.8 251,411.8 251.4,411.8 251.8,411.8 252.2,411.8 252.6,411.8 253,411.8 253.4,411.8 253.8,411.8 254.2,411.8 254.6,411.8 255,411.8 255.4,411.8 255.8,411.8 256.2,411.8 256.6,411.8 257,411.8 257.4,411.8 257.8,411.8 258.2,411.8 258.6,411.8 259,411.8 259.4,411.8 259.8,411.8 260.2,411.8 260.6,411.8 261,411.8 261.4,411.8 261.8,411.8 262.2,411.8 262.6,411.8 263,411.8 263.4,411.8 263.8,411.8 264.2,411.8 264.6,411.8 265,411.8 265.4,411.7 265.8,411.7 266.2,411.7 266.6,411.7 267,411.6 267.4,411.5 267.8,411.5 268.2,411.4 268.6,411.2 269,411.1 269.4,410.8 269.8,410.6 270.2,410.2 270.6,409.8 271,409.3 271.4,408.7 271.8,408 272.2,407.1 272.6,406.1 273,404.9 273.4,403.4 273.8,401.8 274.2,399.9 274.6,397.7 275,395.3 275.4,392.5 275.8,389.5 276.2,386.2 276.6,382.5 277,378.6 277.4,374.3 277.8,369.8 278.2,365.1 278.6,360.2 279,355.1 279.4,350 279.8,344.9 280.2,339.8 280.6,334.8 281,330.1 281.4,325.6 281.8,321.5 282.2,317.8 282.6,314.6 283,312 283.4,309.9 283.8,308.6 284.2,307.9 284.6,307.9 285,308.6 285.4,309.9 285.8,312 286.2,314.6 286.6,317.8 287,321.5 287.4,325.6 287.8,330.1 288.2,334.8 288.6,339.8 289,344.9 289.4,350 289.8,355.1 290.2,360.2 290.6,365.1 291,369.8 291.4,374.3 291.8,378.6 292.2,382.5 292.6,386.2 293,389.5 293.4,392.5 293.8,395.3 294.2,397.7 294.6,399.9 295,401.8 295.4,403.4 295.8,404.9 296.2,406.1 296.6,407.1 297,408 297.4,408.7 297.8,409.3 298.2,409.8 298.6,410.2 299,410.6 299.4,410.8 299.8,411.1 300.2,411.2 300.6,411.4 301,411.5 301.4,411.5 301.8,411.6 302.2,411.7 302.6,411.7 303,411.7 303.4,411.7 303.8,411.8 304.2,411.8 304.6,411.8 305,411.8 305.4,411.8 305.8,411.8 306.2,411.8 306.6,411.8 307,411.8 307.4,411.8 307.8,411.8 308.2,411.8 308.6,411.8 309,411.8 309.4,411.8 309.8,411.8 310.2,411.8 310.6,411.8 311,411.8 311.4,411.8 311.8,411.8 312.2,411.8 312.6,411.8 313,411.8 313.4,411.8 313.8,411.8 314.2,411.8 314.6,411.8 315,411.8 315.4,411.8 315.8,411.8 316.2,411.8 316.6,411.8 317,411.8 317.4,411.8 317.8,411.8 318.2,411.8 318.6,411.8 319,411.8 319.4,411.8 319.8,411.8 320.2,411.8 320.6,411.8 321,411.8 321.4,411.8 321.8,411.8 322.2,411.8 322.6,411.8 323,411.8 323.4,411.8 323.8,411.8 324.2,411.8 324.6,411.8 325,411.8 325.4,411.8 325.8,411.8 326.2,411.8 326.6,411.8 327,411.8 327.4,411.8 327.8,411.8 328.2,411.8 328.6,411.8 329,411.8 329.4,411.8 329.8,411.8 330.2,411.8 330.6,411.8 331,411.8 331.4,411.8 331.8,411.8 332.2,411.8 332.6,411.8 333,411.8 333.4,411.8 333.8,411.8 334.2,411.8 334.6,411.8 335,411.8 335.4,411.8 335.8,411.8 336.2,411.8 336.6,411.8 337,411.8 337.4,411.8 337.8,411.8 338.2,411.8 338.6,411.8 339,411.8 339.4,411.8 339.8,411.8 340.2,411.8 340.6,411.8 341,411.8 341.4,411.8 341.8,411.8 342.2,411.8 342.6,411.8 343,411.8 343.4,411.8 343.8,411.8 344.2,411.8 344.6,411.8 345,411.8 345.4,411.8 345.8,411.8 346.2,411.8 346.6,411.8 347,411.8 347.4,411.8 347.8,411.8 348.2,411.8 348.6,411.8 349,411.8 349.4,411.8 349.8,411.8 350.2,411.8 350.6,411.8 351,411.8 351.4,411.8 351.8,411.8 352.2,411.8 352.6,411.8 353,411.8 353.4,411.8 353.8,411.8 354.2,411.8 354.6,411.8 355,411.8 355.4,411.8 355.8,411.8 356.2,411.8 356.6,411.8 357,411.8 357.4,411.8 357.8,411.8 358.2,411.8 358.6,411.8 359,411.8 359.4,411.8 359.8,411.8 360.2,411.8 360.6,411.8 361,411.8 361.4,411.8 361.8,411.8 362.2,411.8 362.6,411.8 363,411.8 363.4,411.8 363.8,411.8 364.2,411.8 364.6,411.8 365,411.8 365.4,411.8 365.8,411.8 366.2,411.8 366.6,411.8 367,411.8 367.4,411.8 367.8,411.8 368.2,411.8 368.6,411.8 369,411.8 369.4,411.8 369.8,411.8 370.2,411.8 370.6,411.8 371,411.8 371.4,411.8 371.8,411.8 372.2,411.8 372.6,411.8 373,411.8 373.4,411.8 373.8,411.8 374.2,411.8 374.6,411.8 375,411.8 375.4,411.8 375.8,411.8 376.2,411.8 376.6,411.8 377,411.8 377.4,411.8 377.8,411.8 378.2,411.8 378.6,411.8 379,411.8 379.4,411.8 379.8,411.8 380.2,411.8 380.6,411.8 381,411.8 381.4,411.8 381.8,411.8 382.2,411.8 382.6,411.8 383,411.8 383.4,411.8 383.8,411.8 384.2,411.8 384.6,411.8 385,411.8 385.4,411.8 385.8,411.8 386.2,411.8 386.6,411.8 387,411.8 387.4,411.8 387.8,411.8 388.2,411.8 388.6,411.8 389,411.8 389.4,411.8 389.8,411.8 390.2,411.8 390.6,411.8 391,411.8 391.4,411.8" fill="none" stroke="#6a2a9a" stroke-width="1.4" stroke-linejoin="round" />
<polyline points="175,411.8 175.4,411.8 175.8,411.8 176.2,411.8 176.6,411.8 177,411.8 177.4,411.8 177.8,411.8 178.2,411.8 178.6,411.8 179,411.8 179.4,411.8 179.8,411.8 180.2,411.8 180.6,411.8 181,411.8 181.4,411.8 181.8,411.8 182.2,411.8 182.6,411.8 183,411.8 183.4,411.8 183.8,411.8 184.2,411.8 184.6,411.8 185,411.8 185.4,411.8 185.8,411.8 186.2,411.8 186.6,411.8 187,411.8 187.4,411.8 187.8,411.8 188.2,411.8 188.6,411.8 189,411.8 189.4,411.8 189.8,411.8 190.2,411.8 190.6,411.8 191,411.8 191.4,411.8 191.8,411.8 192.2,411.8 192.6,411.8 193,411.8 193.4,411.8 193.8,411.8 194.2,411.8 194.6,411.8 195,411.8 195.4,411.8 195.8,411.8 196.2,411.8 196.6,411.8 197,411.8 197.4,411.8 197.8,411.8 198.2,411.8 198.6,411.8 199,411.8 199.4,411.8 199.8,411.8 200.2,411.8 200.6,411.8 201,411.8 201.4,411.8 201.8,411.8 202.2,411.8 202.6,411.8 203,411.8 203.4,411.8 203.8,411.8 204.2,411.8 204.6,411.8 205,411.8 205.4,411.8 205.8,411.8 206.2,411.8 206.6,411.8 207,411.8 207.4,411.8 207.8,411.8 208.2,411.8 208.6,411.8 209,411.8 209.4,411.8 209.8,411.8 210.2,411.8 210.6,411.8 211,411.8 211.4,411.8 211.8,411.8 212.2,411.8 212.6,411.8 213,411.8 213.4,411.8 213.8,411.8 214.2,411.8 214.6,411.8 215,411.8 215.4,411.8 215.8,411.8 216.2,411.8 216.6,411.8 217,411.8 217.4,411.8 217.8,411.8 218.2,411.8 218.6,411.8 219,411.8 219.4,411.8 219.8,411.8 220.2,411.8 220.6,411.8 221,411.8 221.4,411.8 221.8,411.8 222.2,411.8 222.6,411.8 223,411.8 223.4,411.8 223.8,411.8 224.2,411.8 224.6,411.8 225,411.8 225.4,411.8 225.8,411.8 226.2,411.8 226.6,411.8 227,411.8 227.4,411.8 227.8,411.8 228.2,411.8 228.6,411.8 229,411.8 229.4,411.8 229.8,411.8 230.2,411.8 230.6,411.8 231,411.8 231.4,411.8 231.8,411.8 232.2,411.8 232.6,411.8 233,411.8 233.4,411.8 233.8,411.8 234.2,411.8 234.6,411.8 235,411.8 235.4,411.8 235.8,411.8 236.2,411.8 236.6,411.8 237,411.8 237.4,411.8 237.8,411.8 238.2,411.8 238.6,411.8 239,411.8 239.4,411.8 239.8,411.8 240.2,411.8 240.6,411.8 241,411.8 241.4,411.8 241.8,411.8 242.2,411.8 242.6,411.8 243,411.8 243.4,411.8 243.8,411.8 244.2,411.8 244.6,411.8 245,411.8 245.4,411.8 245.8,411.8 246.2,411.8 246.6,411.8 247,411.8 247.4,411.8 247.8,411.8 248.2,411.8 248.6,411.8 249,411.8 249.4,411.8 249.8,411.8 250.2,411.8 250.6,411.8 251,411.8 251.4,411.8 251.8,411.8 252.2,411.7 252.6,411.7 253,411.7 253.4,411.6 253.8,411.6 254.2,411.5 254.6,411.4 255,411.3 255.4,411.1 255.8,410.8 256.2,410.6 256.6,410.2 257,409.7 257.4,409.1 257.8,408.4 258.2,407.6 258.6,406.5 259,405.2 259.4,403.8 259.8,402 260.2,400 260.6,397.6 261,394.9 261.4,391.8 261.8,388.4 262.2,384.6 262.6,380.5 263,376 263.4,371.2 263.8,366 264.2,360.7 264.6,355.2 265,349.5 265.4,343.9 265.8,338.3 266.2,332.9 266.6,327.7 267,322.9 267.4,318.6 267.8,314.9 268.2,311.8 268.6,309.4 269,307.7 269.4,306.9 269.8,306.9 270.2,307.7 270.6,309.4 271,311.8 271.4,314.9 271.8,318.6 272.2,322.9 272.6,327.7 273,332.9 273.4,338.3 273.8,343.9 274.2,349.5 274.6,355.2 275,360.7 275.4,366 275.8,371.2 276.2,376 276.6,380.5 277,384.6 277.4,388.4 277.8,391.8 278.2,394.9 278.6,397.6 279,400 279.4,402 279.8,403.8 280.2,405.2 280.6,406.5 281,407.6 281.4,408.4 281.8,409.1 282.2,409.7 282.6,410.2 283,410.6 283.4,410.8 283.8,411.1 284.2,411.3 284.6,411.4 285,411.5 285.4,411.6 285.8,411.6 286.2,411.7 286.6,411.7 287,411.7 287.4,411.8 287.8,411.8 288.2,411.8 288.6,411.8 289,411.8 289.4,411.8 289.8,411.8 290.2,411.8 290.6,411.8 291,411.8 291.4,411.8 291.8,411.8 292.2,411.8 292.6,411.8 293,411.8 293.4,411.8 293.8,411.8 294.2,411.8 294.6,411.8 295,411.8 295.4,411.8 295.8,411.8 296.2,411.8 296.6,411.8 297,411.8 297.4,411.8 297.8,411.8 298.2,411.8 298.6,411.8 299,411.8 299.4,411.8 299.8,411.8 300.2,411.8 300.6,411.8 301,411.8 301.4,411.8 301.8,411.8 302.2,411.8 302.6,411.8 303,411.8 303.4,411.8 303.8,411.8 304.2,411.8 304.6,411.8 305,411.8 305.4,411.8 305.8,411.8 306.2,411.8 306.6,411.8 307,411.8 307.4,411.8 307.8,411.8 308.2,411.8 308.6,411.8 309,411.8 309.4,411.8 309.8,411.8 310.2,411.8 310.6,411.8 311,411.8 311.4,411.8 311.8,411.8 312.2,411.8 312.6,411.8 313,411.8 313.4,411.8 313.8,411.8 314.2,411.8 314.6,411.8 315,411.8 315.4,411.8 315.8,411.8 316.2,411.8 316.6,411.8 317,411.8 317.4,411.8 317.8,411.8 318.2,411.8 318.6,411.8 319,411.8 319.4,411.8 319.8,411.8 320.2,411.8 320.6,411.8 321,411.8 321.4,411.8 321.8,411.8 322.2,411.8 322.6,411.8 323,411.8 323.4,411.8 323.8,411.8 324.2,411.8 324.6,411.8 325,411.8 325.4,411.8 325.8,411.8 326.2,411.8 326.6,411.8 327,411.8 327.4,411.8 327.8,411.8 328.2,411.8 328.6,411.8 329,411.8 329.4,411.8 329.8,411.8 330.2,411.8 330.6,411.8 331,411.8 331.4,411.8 331.8,411.8 332.2,411.8 332.6,411.8 333,411.8 333.4,411.8 333.8,411.8 334.2,411.8 334.6,411.8 335,411.8 335.4,411.8 335.8,411.8 336.2,411.8 336.6,411.8 337,411.8 337.4,411.8 337.8,411.8 338.2,411.8 338.6,411.8 339,411.8 339.4,411.8 339.8,411.8 340.2,411.8 340.6,411.8 341,411.8 341.4,411.8 341.8,411.8 342.2,411.8 342.6,411.8 343,411.8 343.4,411.8 343.8,411.8 344.2,411.8 344.6,411.8 345,411.8 345.4,411.8 345.8,411.8 346.2,411.8 346.6,411.8 347,411.8 347.4,411.8 347.8,411.8 348.2,411.8 348.6,411.8 349,411.8 349.4,411.8 349.8,411.8 350.2,411.8 350.6,411.8 351,411.8 351.4,411.8 351.8,411.8 352.2,411.8 352.6,411.8 353,411.8 353.4,411.8 353.8,411.8 354.2,411.8 354.6,411.8 355,411.8 355.4,411.8 355.8,411.8 356.2,411.8 356.6,411.8 357,411.8 357.4,411.8 357.8,411.8 358.2,411.8 358.6,411.8 359,411.8 359.4,411.8 359.8,411.8 360.2,411.8 360.6,411.8 361,411.8 361.4,411.8 361.8,411.8 362.2,411.8 362.6,411.8 363,411.8 363.4,411.8 363.8,411.8 364.2,411.8 364.6,411.8 365,411.8 365.4,411.8 365.8,411.8 366.2,411.8 366.6,411.8 367,411.8 367.4,411.8 367.8,411.8 368.2,411.8 368.6,411.8 369,411.8 369.4,411.8 369.8,411.8 370.2,411.8 370.6,411.8 371,411.8 371.4,411.8 371.8,411.8 372.2,411.8 372.6,411.8 373,411.8 373.4,411.8 373.8,411.8 374.2,411.8 374.6,411.8 375,411.8 375.4,411.8 375.8,411.8 376.2,411.8 376.6,411.8 377,411.8 377.4,411.8 377.8,411.8 378.2,411.8 378.6,411.8 379,411.8 379.4,411.8 379.8,411.8 380.2,411.8 380.6,411.8 381,411.8 381.4,411.8 381.8,411.8 382.2,411.8 382.6,411.8 383,411.8 383.4,411.8 383.8,411.8 384.2,411.8 384.6,411.8 385,411.8 385.4,411.8 385.8,411.8 386.2,411.8 386.6,411.8 387,411.8 387.4,411.8 387.8,411.8 388.2,411.8 388.6,411.8 389,411.8 389.4,411.8 389.8,411.8 390.2,411.8 390.6,411.8 391,411.8 391.4,411.8" fill="none" stroke="#5a1a1a" stroke-width="1.4" stroke-linejoin="round" />
<polyline points="175,411.8 175.4,411.8 175.8,411.8 176.2,411.8 176.6,411.8 177,411.8 177.4,411.8 177.8,411.8 178.2,411.8 178.6,411.8 179,411.8 179.4,411.8 179.8,411.8 180.2,411.8 180.6,411.8 181,411.8 181.4,411.8 181.8,411.8 182.2,411.8 182.6,411.8 183,411.8 183.4,411.8 183.8,411.8 184.2,411.8 184.6,411.8 185,411.8 185.4,411.8 185.8,411.8 186.2,411.8 186.6,411.8 187,411.8 187.4,411.8 187.8,411.8 188.2,411.8 188.6,411.8 189,411.8 189.4,411.8 189.8,411.8 190.2,411.8 190.6,411.8 191,411.8 191.4,411.8 191.8,411.8 192.2,411.8 192.6,411.8 193,411.8 193.4,411.8 193.8,411.8 194.2,411.8 194.6,411.8 195,411.8 195.4,411.8 195.8,411.8 196.2,411.8 196.6,411.8 197,411.8 197.4,411.8 197.8,411.8 198.2,411.8 198.6,411.8 199,411.8 199.4,411.8 199.8,411.8 200.2,411.8 200.6,411.8 201,411.8 201.4,411.8 201.8,411.8 202.2,411.8 202.6,411.8 203,411.8 203.4,411.8 203.8,411.8 204.2,411.8 204.6,411.8 205,411.8 205.4,411.8 205.8,411.8 206.2,411.8 206.6,411.8 207,411.8 207.4,411.8 207.8,411.8 208.2,411.8 208.6,411.8 209,411.8 209.4,411.8 209.8,411.8 210.2,411.8 210.6,411.8 211,411.8 211.4,411.8 211.8,411.8 212.2,411.8 212.6,411.8 213,411.8 213.4,411.8 213.8,411.8 214.2,411.8 214.6,411.8 215,411.8 215.4,411.8 215.8,411.8 216.2,411.8 216.6,411.8 217,411.8 217.4,411.8 217.8,411.8 218.2,411.8 218.6,411.8 219,411.8 219.4,411.8 219.8,411.8 220.2,411.8 220.6,411.8 221,411.8 221.4,411.8 221.8,411.8 222.2,411.8 222.6,411.8 223,411.8 223.4,411.8 223.8,411.8 224.2,411.8 224.6,411.8 225,411.8 225.4,411.8 225.8,411.8 226.2,411.8 226.6,411.8 227,411.8 227.4,411.8 227.8,411.8 228.2,411.8 228.6,411.8 229,411.8 229.4,411.8 229.8,411.8 230.2,411.8 230.6,411.8 231,411.8 231.4,411.8 231.8,411.8 232.2,411.8 232.6,411.8 233,411.8 233.4,411.8 233.8,411.8 234.2,411.8 234.6,411.8 235,411.8 235.4,411.8 235.8,411.8 236.2,411.8 236.6,411.8 237,411.8 237.4,411.8 237.8,411.8 238.2,411.8 238.6,411.8 239,411.8 239.4,411.8 239.8,411.8 240.2,411.8 240.6,411.8 241,411.8 241.4,411.8 241.8,411.8 242.2,411.8 242.6,411.8 243,411.8 243.4,411.8 243.8,411.8 244.2,411.8 244.6,411.8 245,411.8 245.4,411.8 245.8,411.8 246.2,411.8 246.6,411.8 247,411.8 247.4,411.8 247.8,411.8 248.2,411.8 248.6,411.8 249,411.8 249.4,411.8 249.8,411.8 250.2,411.8 250.6,411.8 251,411.8 251.4,411.7 251.8,411.7 252.2,411.6 252.6,411.5 253,411.5 253.4,411.4 253.8,411.4 254.2,411.3 254.6,411.2 255,411.1 255.4,410.9 255.8,410.6 256.2,410.1 256.6,409.5 257,408.7 257.4,407.7 257.8,405.6 258.2,402.9 258.6,400 259,396.6 259.4,392.7 259.8,389.2 260.2,386 260.6,383 261,380 261.4,377.1 261.8,374.3 262.2,371.6 262.6,368.8 263,366 263.4,363.3 263.8,360.7 264.2,358.2 264.6,355.5 265,352.4 265.4,349 265.8,344.6 266.2,338.3 266.6,331.1 267,324.6 267.4,319.7 267.8,315.6 268.2,312.2 268.6,309.9 269,308 269.4,306.8 269.8,306.7 270.2,307.2 270.6,308.2 271,309.3 271.4,311.2 271.8,313.9 272.2,316.9 272.6,320 273,323.4 273.4,327.2 273.8,331.1 274.2,334.5 274.6,337.1 275,339.3 275.4,341.5 275.8,343.2 276.2,344.2 276.6,344.1 277,343 277.4,341 277.8,338.6 278.2,336 278.6,332.7 279,328.5 279.4,324.1 279.8,320.3 280.2,317.1 280.6,313.9 281,311 281.4,308.3 281.8,305.9 282.2,303.9 282.6,302.1 283,300.4 283.4,298.8 283.8,297.5 284.2,296.7 284.6,296.2 285,295.9 285.4,295.7 285.8,295.9 286.2,296.5 286.6,297.5 287,298.6 287.4,299.7 287.8,300.9 288.2,302.5 288.6,304.3 289,305.8 289.4,306.8 289.8,307.1 290.2,306.5 290.6,305.2 291,303.3 291.4,301.1 291.8,298.8 292.2,296.4 292.6,294 293,291 293.4,287.7 293.8,284.2 294.2,280.8 294.6,277.7 295,275 295.4,272.3 295.8,269.7 296.2,267.2 296.6,265.1 297,263.3 297.4,261.7 297.8,260 298.2,258.5 298.6,257.1 299,256.1 299.4,255.5 299.8,255.3 300.2,255.8 300.6,256.8 301,258.2 301.4,259.9 301.8,261.7 302.2,263.5 302.6,265.1 303,266.6 303.4,268.2 303.8,269.8 304.2,271.5 304.6,273.2 305,274.9 305.4,276.5 305.8,278.1 306.2,279.6 306.6,281 307,282.3 307.4,283.7 307.8,285 308.2,286.2 308.6,287.6 309,288.9 309.4,290.3 309.8,291.8 310.2,293.3 310.6,294.9 311,296.5 311.4,298.1 311.8,299.8 312.2,301.4 312.6,303.1 313,304.8 313.4,306.6 313.8,308.3 314.2,310.1 314.6,311.9 315,313.7 315.4,315.6 315.8,317.4 316.2,319.3 316.6,321.3 317,323.2 317.4,325.3 317.8,327.3 318.2,329.4 318.6,331.5 319,333.6 319.4,335.7 319.8,337.8 320.2,340 320.6,342.3 321,344.7 321.4,347.4 321.8,350.4 322.2,353.6 322.6,356.9 323,360.2 323.4,363.3 323.8,366.2 324.2,369.2 324.6,372 325,374.7 325.4,377.2 325.8,379.5 326.2,381.7 326.6,383.9 327,385.9 327.4,387.9 327.8,389.7 328.2,391.4 328.6,392.9 329,394.3 329.4,395.5 329.8,396.7 330.2,397.8 330.6,398.9 331,399.9 331.4,400.8 331.8,401.7 332.2,402.5 332.6,403.3 333,404.1 333.4,404.8 333.8,405.5 334.2,406.1 334.6,406.7 335,407.3 335.4,407.8 335.8,408.3 336.2,408.8 336.6,409.3 337,409.7 337.4,410.1 337.8,410.5 338.2,410.8 338.6,410.9 339,411.1 339.4,411.3 339.8,411.4 340.2,411.5 340.6,411.6 341,411.7 341.4,411.8 341.8,411.8 342.2,411.8 342.6,411.8 343,411.8 343.4,411.8 343.8,411.8 344.2,411.8 344.6,411.8 345,411.8 345.4,411.8 345.8,411.8 346.2,411.8 346.6,411.8 347,411.8 347.4,411.8 347.8,411.8 348.2,411.8 348.6,411.8 349,411.8 349.4,411.8 349.8,411.8 350.2,411.8 350.6,411.8 351,411.8 351.4,411.8 351.8,411.8 352.2,411.8 352.6,411.8 353,411.8 353.4,411.8 353.8,411.8 354.2,411.8 354.6,411.8 355,411.8 355.4,411.8 355.8,411.8 356.2,411.8 356.6,411.8 357,411.8 357.4,411.8 357.8,411.8 358.2,411.8 358.6,411.8 359,411.8 359.4,411.8 359.8,411.8 360.2,411.8 360.6,411.8 361,411.8 361.4,411.8 361.8,411.8 362.2,411.8 362.6,411.8 363,411.8 363.4,411.8 363.8,411.8 364.2,411.8 364.6,411.8 365,411.8 365.4,411.8 365.8,411.8 366.2,411.8 366.6,411.8 367,411.8 367.4,411.8 367.8,411.8 368.2,411.8 368.6,411.8 369,411.8 369.4,411.8 369.8,411.8 370.2,411.8 370.6,411.8 371,411.8 371.4,411.8 371.8,411.8 372.2,411.8 372.6,411.8 373,411.8 373.4,411.8 373.8,411.8 374.2,411.8 374.6,411.8 375,411.8 375.4,411.8 375.8,411.8 376.2,411.8 376.6,411.8 377,411.8 377.4,411.8 377.8,411.8 378.2,411.8 378.6,411.8 379,411.8 379.4,411.8 379.8,411.8 380.2,411.8 380.6,411.8 381,411.8 381.4,411.8 381.8,411.8 382.2,411.8 382.6,411.8 383,411.8 383.4,411.8 383.8,411.8 384.2,411.8 384.6,411.8 385,411.8 385.4,411.8 385.8,411.8 386.2,411.8 386.6,411.8 387,411.8 387.4,411.8 387.8,411.8 388.2,411.8 388.6,411.8 389,411.8 389.4,411.8 389.8,411.8 390.2,411.8 390.6,411.8 391,411.8" fill="none" stroke="#7a1010" stroke-width="2.1" stroke-linejoin="round" />
<polyline points="175,412.8 175.4,412.1 175.8,411.3 176.2,410.5 176.6,411 177,411.5 177.4,412 177.8,411.8 178.2,411.7 178.6,411.5 179,411.5 179.4,411.6 179.8,411.6 180.2,411.6 180.6,411.7 181,411.7 181.4,411.4 181.8,411.1 182.2,410.8 182.6,411.1 183,411.4 183.4,411.7 183.8,411.6 184.2,411.5 184.6,411.4 185,412.1 185.4,412.8 185.8,413.5 186.2,412.9 186.6,412.4 187,411.9 187.4,411.8 187.8,411.7 188.2,411.6 188.6,411.6 189,411.6 189.4,411.7 189.8,411.6 190.2,411.5 190.6,411.5 191,411.4 191.4,411.3 191.8,411.3 192.2,411.4 192.6,411.5 193,411.6 193.4,411.8 193.8,411.9 194.2,412 194.6,411.9 195,411.8 195.4,411.7 195.8,411.9 196.2,412.1 196.6,412.3 197,412.1 197.4,411.9 197.8,411.7 198.2,411.7 198.6,411.8 199,411.8 199.4,412.1 199.8,412.3 200.2,412.6 200.6,412.4 201,412.2 201.4,412.1 201.8,411.9 202.2,411.7 202.6,411.5 203,411.6 203.4,411.7 203.8,411.7 204.2,411.8 204.6,411.9 205,412.1 205.4,412.3 205.8,412.5 206.2,412.8 206.6,412.4 207,412 207.4,411.7 207.8,411.7 208.2,411.7 208.6,411.7 209,411.9 209.4,412.1 209.8,412.3 210.2,412 210.6,411.7 211,411.4 211.4,411.5 211.8,411.6 212.2,411.7 212.6,411.8 213,412 213.4,412.2 213.8,412.2 214.2,412.1 214.6,412.1 215,412 215.4,411.9 215.8,411.8 216.2,411.9 216.6,412 217,412.1 217.4,411.6 217.8,411 218.2,410.4 218.6,411 219,411.7 219.4,412.3 219.8,412 220.2,411.7 220.6,411.3 221,411.2 221.4,411.1 221.8,411 222.2,411.3 222.6,411.6 223,411.9 223.4,412 223.8,412.1 224.2,412.2 224.6,412 225,411.8 225.4,411.6 225.8,411.5 226.2,411.4 226.6,411.3 227,411.4 227.4,411.6 227.8,411.8 228.2,411.8 228.6,411.8 229,411.8 229.4,412 229.8,412.3 230.2,412.5 230.6,412.4 231,412.3 231.4,412.2 231.8,412.1 232.2,412 232.6,411.9 233,412 233.4,412.2 233.8,412.4 234.2,412.1 234.6,411.9 235,411.7 235.4,411.6 235.8,411.5 236.2,411.3 236.6,411.6 237,411.8 237.4,412.1 237.8,412.1 238.2,412.1 238.6,412.1 239,412 239.4,411.8 239.8,411.7 240.2,411.6 240.6,411.5 241,411.4 241.4,411.6 241.8,411.7 242.2,411.9 242.6,411.5 243,411 243.4,410.6 243.8,411.1 244.2,411.6 244.6,412.1 245,412.1 245.4,412.1 245.8,412 246.2,411.7 246.6,411.3 247,411 247.4,411.3 247.8,411.5 248.2,411.8 248.6,411.7 249,411.5 249.4,411.3 249.8,411.6 250.2,411.9 250.6,412.2 251,411.7 251.4,411.2 251.8,410.6 252.2,410.8 252.6,410.9 253,411 253.4,411.2 253.8,411.4 254.2,411.6 254.6,411.6 255,411.6 255.4,411.5 255.8,410.6 256.2,409.6 256.6,408.4 257,407.9 257.4,407.2 257.8,405.4 258.2,402.8 258.6,400 259,396.8 259.4,392.7 259.8,389 260.2,385.7 260.6,383 261,380.4 261.4,377.9 261.8,374.7 262.2,371.4 262.6,368.2 263,365.7 263.4,363.2 263.8,360.9 264.2,358.1 264.6,355.2 265,351.9 265.4,348.9 265.8,344.9 266.2,339 266.6,331.6 267,324.8 267.4,319.7 267.8,315.5 268.2,312.1 268.6,309.8 269,307.6 269.4,306.1 269.8,305.8 270.2,307 270.6,308.5 271,310.2 271.4,311.9 271.8,314.4 272.2,317.3 272.6,320.4 273,323.7 273.4,327.6 273.8,331.5 274.2,335 274.6,337.6 275,339.8 275.4,341.8 275.8,343.4 276.2,344.2 276.6,344 277,342.7 277.4,340.7 277.8,338.2 278.2,335.6 278.6,332.3 279,328.1 279.4,323.7 279.8,320.3 280.2,317.4 280.6,314.6 281,311.2 281.4,308 281.8,305.2 282.2,303.4 282.6,301.7 283,300.1 283.4,298.6 283.8,297.3 284.2,296.5 284.6,296.1 285,295.9 285.4,295.8 285.8,296 286.2,296.7 286.6,297.8 287,298.6 287.4,299.4 287.8,300.3 288.2,301.8 288.6,303.5 289,304.9 289.4,306.3 289.8,306.8 290.2,306.5 290.6,305.4 291,303.7 291.4,301.8 291.8,299.3 292.2,296.8 292.6,294.3 293,291.3 293.4,287.9 293.8,284.3 294.2,280.8 294.6,277.6 295,274.8 295.4,272.2 295.8,269.7 296.2,267.4 296.6,265.2 297,263.3 297.4,261.5 297.8,260.1 298.2,258.7 298.6,257.5 299,256.2 299.4,255.3 299.8,254.9 300.2,255.6 300.6,256.7 301,258.3 301.4,259.9 301.8,261.7 302.2,263.4 302.6,265.2 303,266.8 303.4,268.5 303.8,270.1 304.2,271.7 304.6,273.3 305,275.4 305.4,277.4 305.8,279.3 306.2,280.7 306.6,281.9 307,283.1 307.4,284.4 307.8,285.7 308.2,287 308.6,287.7 309,288.5 309.4,289.3 309.8,291.1 310.2,292.9 310.6,294.7 311,296.3 311.4,297.9 311.8,299.5 312.2,301.3 312.6,303.2 313,305.1 313.4,306.4 313.8,307.6 314.2,308.9 314.6,311.3 315,313.7 315.4,316.1 315.8,318 316.2,319.9 316.6,321.8 317,323.4 317.4,325 317.8,326.7 318.2,328.8 318.6,331 319,333.1 319.4,335.2 319.8,337.4 320.2,339.6 320.6,342 321,344.6 321.4,347.4 321.8,350.5 322.2,353.8 322.6,357.3 323,360.8 323.4,364.1 323.8,367.3 324.2,369.8 324.6,372.3 325,374.6 325.4,377.3 325.8,379.8 326.2,382.1 326.6,384.2 327,386.1 327.4,387.9 327.8,390 328.2,392 328.6,393.8 329,395 329.4,396.1 329.8,397.1 330.2,398.3 330.6,399.5 331,400.6 331.4,401.1 331.8,401.5 332.2,402 332.6,402.9 333,403.8 333.4,404.7 333.8,405.3 334.2,405.8 334.6,406.3 335,407.3 335.4,408.2 335.8,409.1 336.2,409.4 336.6,409.8 337,410.1 337.4,410.3 337.8,410.5 338.2,410.6 338.6,410.8 339,410.9 339.4,411 339.8,411.3 340.2,411.6 340.6,411.9 341,411.8 341.4,411.6 341.8,411.4 342.2,411.4 342.6,411.4 343,411.3 343.4,411.6 343.8,411.8 344.2,412 344.6,412.4 345,412.7 345.4,413 345.8,412.6 346.2,412.1 346.6,411.7 347,411.6 347.4,411.6 347.8,411.5 348.2,411.4 348.6,411.3 349,411.2 349.4,411.2 349.8,411.2 350.2,411.1 350.6,411.4 351,411.8 351.4,412.1 351.8,412.1 352.2,412.2 352.6,412.2 353,412.1 353.4,411.9 353.8,411.8 354.2,411.9 354.6,411.9 355,412 355.4,411.9 355.8,411.9 356.2,411.9 356.6,411.9 357,411.9 357.4,411.9 357.8,411.6 358.2,411.3 358.6,411 359,411.2 359.4,411.4 359.8,411.6 360.2,411.7 360.6,411.8 361,411.9 361.4,411.7 361.8,411.6 362.2,411.4 362.6,411.5 363,411.5 363.4,411.6 363.8,411.5 364.2,411.4 364.6,411.4 365,411.5 365.4,411.6 365.8,411.6 366.2,411.8 366.6,412 367,412.2 367.4,412 367.8,411.8 368.2,411.6 368.6,411.6 369,411.7 369.4,411.7 369.8,411.9 370.2,412 370.6,412.2 371,412.2 371.4,412.2 371.8,412.1 372.2,412.3 372.6,412.5 373,412.6 373.4,412 373.8,411.4 374.2,410.8 374.6,411.2 375,411.7 375.4,412.2 375.8,412 376.2,411.8 376.6,411.6 377,411.7 377.4,411.8 377.8,411.9 378.2,412 378.6,412.1 379,412.2 379.4,412.3 379.8,412.3 380.2,412.3 380.6,412.3 381,412.3 381.4,412.3 381.8,412.2 382.2,412 382.6,411.9 383,412.1 383.4,412.4 383.8,412.6 384.2,412.3 384.6,412 385,411.7 385.4,411.7 385.8,411.7 386.2,411.7 386.6,411.9 387,412 387.4,412.2 387.8,412 388.2,411.7 388.6,411.5 389,412 389.4,412.4 389.8,412.9 390.2,412.7 390.6,412.5 391,412.3" fill="none" stroke="#222" stroke-width="0.9" stroke-linejoin="round" stroke-dasharray="1.2 2.4" stroke-opacity="0.75"/>
<text x="254.9" y="299.6" font-family="'Liberation Sans', sans-serif" font-size="10" font-weight="bold" text-anchor="start" fill="#111" textLength="16.6" lengthAdjust="spacingAndGlyphs" stroke="#111" stroke-width="0.35" >C-C</text>
<text x="273.8" y="289.8" font-family="'Liberation Sans', sans-serif" font-size="10" font-weight="bold" text-anchor="start" fill="#111" textLength="17.6" lengthAdjust="spacingAndGlyphs" stroke="#111" stroke-width="0.35" >C-H</text>
<text x="295.3" y="252.2" font-family="'Liberation Sans', sans-serif" font-size="10" font-weight="bold" text-anchor="start" fill="#111" textLength="21.1" lengthAdjust="spacingAndGlyphs" stroke="#111" stroke-width="0.35" >C=O</text>
<text x="315" y="285.9" font-family="'Liberation Sans', sans-serif" font-size="10" font-weight="bold" text-anchor="start" fill="#111" textLength="18.6" lengthAdjust="spacingAndGlyphs" stroke="#111" stroke-width="0.35" >C-O</text>
<line x1="354.3" y1="254.1" x2="377.1" y2="254.1" stroke="#7a0a0a" stroke-width="2.4"/>
<line x1="354.3" y1="268.7" x2="377.1" y2="268.7" stroke="#8a2ad0" stroke-width="2.4"/>
<line x1="354.3" y1="282.1" x2="377.1" y2="282.1" stroke="#ee22ee" stroke-width="2.4"/>
<line x1="354.3" y1="296.4" x2="377.1" y2="296.4" stroke="#33cc33" stroke-width="2.4"/>
<text x="379.6" y="257.6" font-family="'Liberation Sans', sans-serif" font-size="10" font-weight="bold" text-anchor="start" fill="#111" textLength="15.1" lengthAdjust="spacingAndGlyphs" stroke="#111" stroke-width="0.35" >C-C</text>
<text x="379.6" y="272.2" font-family="'Liberation Sans', sans-serif" font-size="10" font-weight="bold" text-anchor="start" fill="#111" textLength="15.9" lengthAdjust="spacingAndGlyphs" stroke="#111" stroke-width="0.35" >C-H</text>
<text x="378.7" y="286.4" font-family="'Liberation Sans', sans-serif" font-size="10" font-weight="bold" text-anchor="start" fill="#111" textLength="18.8" lengthAdjust="spacingAndGlyphs" stroke="#111" stroke-width="0.35" >C=O</text>
<text x="379.6" y="300.4" font-family="'Liberation Sans', sans-serif" font-size="10" font-weight="bold" text-anchor="start" fill="#111" textLength="16.8" lengthAdjust="spacingAndGlyphs" stroke="#111" stroke-width="0.35" >C-O</text>
<text x="346.3" y="244" font-family="'Liberation Sans', sans-serif" font-size="11.4" font-weight="bold" text-anchor="start" fill="#111" textLength="47.5" lengthAdjust="spacingAndGlyphs" stroke="#111" stroke-width="0.35" >rGO-TiO</text>
<text x="394.2" y="247" font-family="'Liberation Sans', sans-serif" font-size="8.6" font-weight="bold" text-anchor="start" fill="#111" textLength="5.4" lengthAdjust="spacingAndGlyphs" stroke="#111" stroke-width="0.35" >2</text>
<text x="171.8" y="259.4" font-family="'Liberation Serif', serif" font-size="27" font-weight="bold" text-anchor="start" fill="#000" >c)</text>
<text x="0" y="0" font-family="'Liberation Sans', sans-serif" font-size="9.2" font-weight="bold" text-anchor="middle" fill="#111" textLength="71.6" lengthAdjust="spacingAndGlyphs" stroke="#111" stroke-width="0.35" transform="translate(151.2,323.6) rotate(-90)">Intensity (a.u.)</text>
<text x="248.3" y="454.2" font-family="'Liberation Sans', sans-serif" font-size="11.2" font-weight="bold" text-anchor="start" fill="#111" textLength="98.6" lengthAdjust="spacingAndGlyphs" stroke="#111" stroke-width="0.35" >Binding energy (eV)</text>
</g>
</svg>
</body></html>
